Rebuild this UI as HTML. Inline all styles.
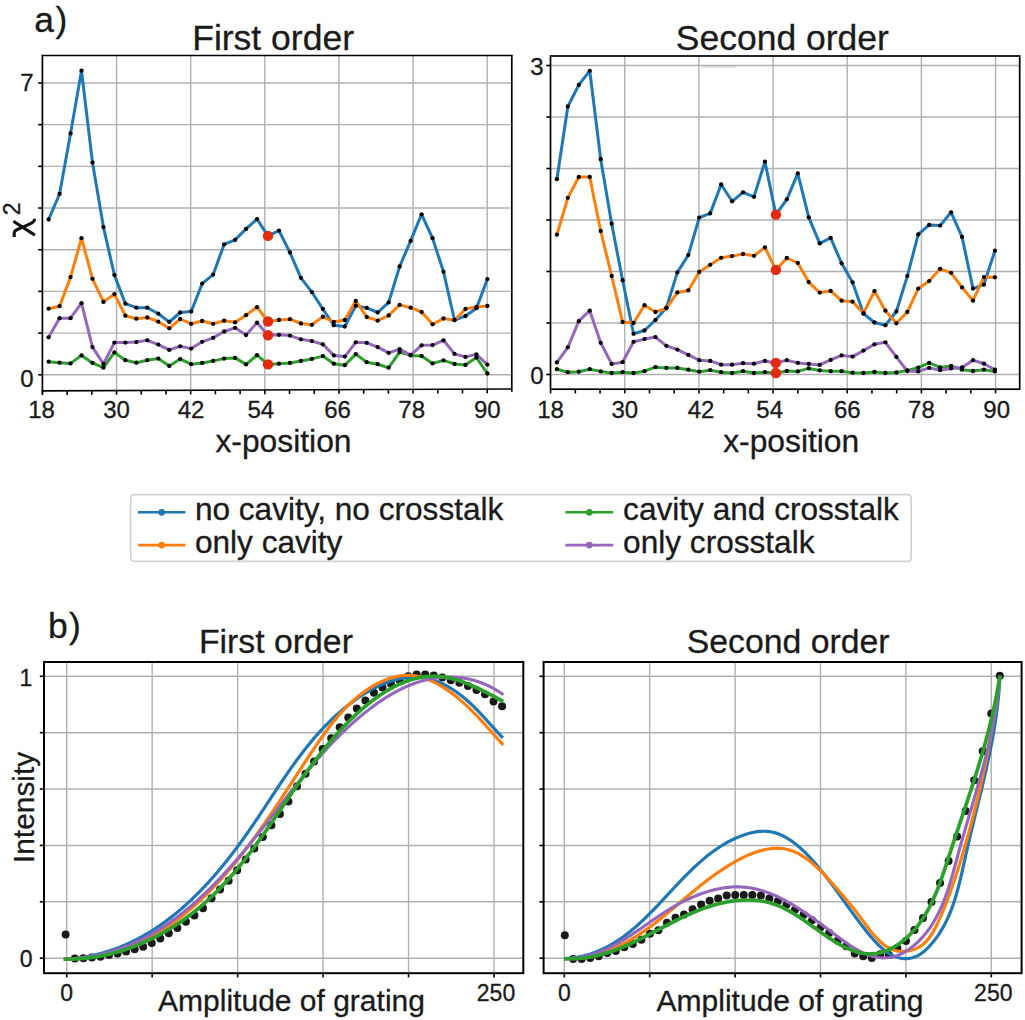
<!DOCTYPE html><html><head><meta charset="utf-8"><style>html,body{margin:0;padding:0;background:#fff;overflow:hidden}svg{display:block}</style></head><body><svg width="1025" height="1020" viewBox="0 0 1025 1020" font-family="&quot;Liberation Sans&quot;, sans-serif">
<style>text{fill:#1a1a1a;stroke:#1a1a1a;stroke-width:0.3px}</style>
<rect width="1025" height="1020" fill="#fff"/>
<rect x="42.4" y="55.5" width="469.4" height="335" fill="#fff"/>
<line x1="116.54" y1="55.5" x2="116.54" y2="390.5" stroke="#b0b0b0" stroke-width="1.4" />
<line x1="190.67" y1="55.5" x2="190.67" y2="390.5" stroke="#b0b0b0" stroke-width="1.4" />
<line x1="264.81" y1="55.5" x2="264.81" y2="390.5" stroke="#b0b0b0" stroke-width="1.4" />
<line x1="338.94" y1="55.5" x2="338.94" y2="390.5" stroke="#b0b0b0" stroke-width="1.4" />
<line x1="413.08" y1="55.5" x2="413.08" y2="390.5" stroke="#b0b0b0" stroke-width="1.4" />
<line x1="487.22" y1="55.5" x2="487.22" y2="390.5" stroke="#b0b0b0" stroke-width="1.4" />
<line x1="42.4" y1="374.8" x2="511.8" y2="374.8" stroke="#b0b0b0" stroke-width="1.4" />
<line x1="42.4" y1="333.11" x2="511.8" y2="333.11" stroke="#b0b0b0" stroke-width="1.4" />
<line x1="42.4" y1="291.42" x2="511.8" y2="291.42" stroke="#b0b0b0" stroke-width="1.4" />
<line x1="42.4" y1="249.73" x2="511.8" y2="249.73" stroke="#b0b0b0" stroke-width="1.4" />
<line x1="42.4" y1="208.04" x2="511.8" y2="208.04" stroke="#b0b0b0" stroke-width="1.4" />
<line x1="42.4" y1="166.35" x2="511.8" y2="166.35" stroke="#b0b0b0" stroke-width="1.4" />
<line x1="42.4" y1="124.66" x2="511.8" y2="124.66" stroke="#b0b0b0" stroke-width="1.4" />
<line x1="42.4" y1="82.97" x2="511.8" y2="82.97" stroke="#b0b0b0" stroke-width="1.4" />
<path d="M48.6,219.5 L59.57,194 L70.54,133.4 L81.51,70.7 L92.48,162.6 L103.45,227.1 L114.42,275.1 L125.39,303.7 L136.36,307.7 L147.33,307.7 L158.3,313.7 L169.27,322 L180.24,312.5 L191.21,311.5 L202.18,283.6 L213.15,274.6 L224.12,244.4 L235.09,239.9 L246.06,228.9 L257.03,219.1 L268,235.9 L278.97,230.6 L289.94,252.5 L300.91,277.8 L311.88,292.1 L322.85,309 L333.82,325.3 L344.79,326.5 L355.76,305.7 L366.73,307.9 L377.7,312.5 L388.67,302.4 L399.64,266.5 L410.61,240.9 L421.58,214.3 L432.55,238.2 L443.52,271.8 L454.49,320 L465.46,316 L476.43,308.2 L487.4,279.1" fill="none" stroke="#1f77b4" stroke-width="3.0" stroke-linejoin="round" />
<path d="M48.6,308.7 L59.57,306.2 L70.54,277.1 L81.51,238.2 L92.48,278.8 L103.45,301.9 L114.42,294.1 L125.39,315.7 L136.36,318.7 L147.33,317.5 L158.3,321.7 L169.27,328.3 L180.24,319 L191.21,323.8 L202.18,321 L213.15,323.8 L224.12,320.7 L235.09,322.3 L246.06,315.2 L257.03,307.2 L268,321.5 L278.97,320 L289.94,319.2 L300.91,323.5 L311.88,324.8 L322.85,316.7 L333.82,322 L344.79,320 L355.76,300.9 L366.73,317 L377.7,320.7 L388.67,315.5 L399.64,304.9 L410.61,307.7 L421.58,312 L432.55,324.3 L443.52,318.5 L454.49,320.2 L465.46,309 L476.43,306.9 L487.4,305.9" fill="none" stroke="#ff7f0e" stroke-width="3.0" stroke-linejoin="round" />
<path d="M48.6,361.7 L59.57,362.7 L70.54,363.4 L81.51,355.4 L92.48,362.9 L103.45,367.7 L114.42,352.4 L125.39,360.2 L136.36,362.7 L147.33,360.2 L158.3,358.6 L169.27,365.9 L180.24,359.1 L191.21,364.2 L202.18,362.9 L213.15,360.9 L224.12,358.6 L235.09,357.9 L246.06,364.4 L257.03,355.1 L268,364.4 L278.97,363.7 L289.94,362.9 L300.91,360.9 L311.88,358.9 L322.85,356.1 L333.82,363.7 L344.79,365.2 L355.76,354.1 L366.73,362.2 L377.7,364.2 L388.67,367.7 L399.64,352.1 L410.61,355.4 L421.58,355.9 L432.55,363.4 L443.52,360.4 L454.49,363.9 L465.46,364.9 L476.43,357.6 L487.4,373.5" fill="none" stroke="#2ca02c" stroke-width="3.0" stroke-linejoin="round" />
<path d="M48.6,337.3 L59.57,318.2 L70.54,318.2 L81.51,303.2 L92.48,347.1 L103.45,363.9 L114.42,342.6 L125.39,342.6 L136.36,342.1 L147.33,340.3 L158.3,344.6 L169.27,349.9 L180.24,346.3 L191.21,348.6 L202.18,341.8 L213.15,337.8 L224.12,331.5 L235.09,327.8 L246.06,335 L257.03,322.7 L268,335.3 L278.97,334.8 L289.94,335.6 L300.91,339.3 L311.88,341.1 L322.85,344.3 L333.82,355.4 L344.79,356.6 L355.76,342.3 L366.73,342.8 L377.7,347.1 L388.67,352.9 L399.64,349.1 L410.61,355.1 L421.58,345.3 L432.55,345.1 L443.52,340.3 L454.49,353.9 L465.46,356.9 L476.43,354.4 L487.4,364.7" fill="none" stroke="#9467bd" stroke-width="3.0" stroke-linejoin="round" />
<g fill="#000">
<circle cx="48.6" cy="219.5" r="2.15"/>
<circle cx="59.57" cy="194" r="2.15"/>
<circle cx="70.54" cy="133.4" r="2.15"/>
<circle cx="81.51" cy="70.7" r="2.15"/>
<circle cx="92.48" cy="162.6" r="2.15"/>
<circle cx="103.45" cy="227.1" r="2.15"/>
<circle cx="114.42" cy="275.1" r="2.15"/>
<circle cx="125.39" cy="303.7" r="2.15"/>
<circle cx="136.36" cy="307.7" r="2.15"/>
<circle cx="147.33" cy="307.7" r="2.15"/>
<circle cx="158.3" cy="313.7" r="2.15"/>
<circle cx="169.27" cy="322" r="2.15"/>
<circle cx="180.24" cy="312.5" r="2.15"/>
<circle cx="191.21" cy="311.5" r="2.15"/>
<circle cx="202.18" cy="283.6" r="2.15"/>
<circle cx="213.15" cy="274.6" r="2.15"/>
<circle cx="224.12" cy="244.4" r="2.15"/>
<circle cx="235.09" cy="239.9" r="2.15"/>
<circle cx="246.06" cy="228.9" r="2.15"/>
<circle cx="257.03" cy="219.1" r="2.15"/>
<circle cx="278.97" cy="230.6" r="2.15"/>
<circle cx="289.94" cy="252.5" r="2.15"/>
<circle cx="300.91" cy="277.8" r="2.15"/>
<circle cx="311.88" cy="292.1" r="2.15"/>
<circle cx="322.85" cy="309" r="2.15"/>
<circle cx="333.82" cy="325.3" r="2.15"/>
<circle cx="344.79" cy="326.5" r="2.15"/>
<circle cx="355.76" cy="305.7" r="2.15"/>
<circle cx="366.73" cy="307.9" r="2.15"/>
<circle cx="377.7" cy="312.5" r="2.15"/>
<circle cx="388.67" cy="302.4" r="2.15"/>
<circle cx="399.64" cy="266.5" r="2.15"/>
<circle cx="410.61" cy="240.9" r="2.15"/>
<circle cx="421.58" cy="214.3" r="2.15"/>
<circle cx="432.55" cy="238.2" r="2.15"/>
<circle cx="443.52" cy="271.8" r="2.15"/>
<circle cx="454.49" cy="320" r="2.15"/>
<circle cx="465.46" cy="316" r="2.15"/>
<circle cx="476.43" cy="308.2" r="2.15"/>
<circle cx="487.4" cy="279.1" r="2.15"/>
<circle cx="48.6" cy="308.7" r="2.15"/>
<circle cx="59.57" cy="306.2" r="2.15"/>
<circle cx="70.54" cy="277.1" r="2.15"/>
<circle cx="81.51" cy="238.2" r="2.15"/>
<circle cx="92.48" cy="278.8" r="2.15"/>
<circle cx="103.45" cy="301.9" r="2.15"/>
<circle cx="114.42" cy="294.1" r="2.15"/>
<circle cx="125.39" cy="315.7" r="2.15"/>
<circle cx="136.36" cy="318.7" r="2.15"/>
<circle cx="147.33" cy="317.5" r="2.15"/>
<circle cx="158.3" cy="321.7" r="2.15"/>
<circle cx="169.27" cy="328.3" r="2.15"/>
<circle cx="180.24" cy="319" r="2.15"/>
<circle cx="191.21" cy="323.8" r="2.15"/>
<circle cx="202.18" cy="321" r="2.15"/>
<circle cx="213.15" cy="323.8" r="2.15"/>
<circle cx="224.12" cy="320.7" r="2.15"/>
<circle cx="235.09" cy="322.3" r="2.15"/>
<circle cx="246.06" cy="315.2" r="2.15"/>
<circle cx="257.03" cy="307.2" r="2.15"/>
<circle cx="278.97" cy="320" r="2.15"/>
<circle cx="289.94" cy="319.2" r="2.15"/>
<circle cx="300.91" cy="323.5" r="2.15"/>
<circle cx="311.88" cy="324.8" r="2.15"/>
<circle cx="322.85" cy="316.7" r="2.15"/>
<circle cx="333.82" cy="322" r="2.15"/>
<circle cx="344.79" cy="320" r="2.15"/>
<circle cx="355.76" cy="300.9" r="2.15"/>
<circle cx="366.73" cy="317" r="2.15"/>
<circle cx="377.7" cy="320.7" r="2.15"/>
<circle cx="388.67" cy="315.5" r="2.15"/>
<circle cx="399.64" cy="304.9" r="2.15"/>
<circle cx="410.61" cy="307.7" r="2.15"/>
<circle cx="421.58" cy="312" r="2.15"/>
<circle cx="432.55" cy="324.3" r="2.15"/>
<circle cx="443.52" cy="318.5" r="2.15"/>
<circle cx="454.49" cy="320.2" r="2.15"/>
<circle cx="465.46" cy="309" r="2.15"/>
<circle cx="476.43" cy="306.9" r="2.15"/>
<circle cx="487.4" cy="305.9" r="2.15"/>
<circle cx="48.6" cy="361.7" r="2.15"/>
<circle cx="59.57" cy="362.7" r="2.15"/>
<circle cx="70.54" cy="363.4" r="2.15"/>
<circle cx="81.51" cy="355.4" r="2.15"/>
<circle cx="92.48" cy="362.9" r="2.15"/>
<circle cx="103.45" cy="367.7" r="2.15"/>
<circle cx="114.42" cy="352.4" r="2.15"/>
<circle cx="125.39" cy="360.2" r="2.15"/>
<circle cx="136.36" cy="362.7" r="2.15"/>
<circle cx="147.33" cy="360.2" r="2.15"/>
<circle cx="158.3" cy="358.6" r="2.15"/>
<circle cx="169.27" cy="365.9" r="2.15"/>
<circle cx="180.24" cy="359.1" r="2.15"/>
<circle cx="191.21" cy="364.2" r="2.15"/>
<circle cx="202.18" cy="362.9" r="2.15"/>
<circle cx="213.15" cy="360.9" r="2.15"/>
<circle cx="224.12" cy="358.6" r="2.15"/>
<circle cx="235.09" cy="357.9" r="2.15"/>
<circle cx="246.06" cy="364.4" r="2.15"/>
<circle cx="257.03" cy="355.1" r="2.15"/>
<circle cx="278.97" cy="363.7" r="2.15"/>
<circle cx="289.94" cy="362.9" r="2.15"/>
<circle cx="300.91" cy="360.9" r="2.15"/>
<circle cx="311.88" cy="358.9" r="2.15"/>
<circle cx="322.85" cy="356.1" r="2.15"/>
<circle cx="333.82" cy="363.7" r="2.15"/>
<circle cx="344.79" cy="365.2" r="2.15"/>
<circle cx="355.76" cy="354.1" r="2.15"/>
<circle cx="366.73" cy="362.2" r="2.15"/>
<circle cx="377.7" cy="364.2" r="2.15"/>
<circle cx="388.67" cy="367.7" r="2.15"/>
<circle cx="399.64" cy="352.1" r="2.15"/>
<circle cx="410.61" cy="355.4" r="2.15"/>
<circle cx="421.58" cy="355.9" r="2.15"/>
<circle cx="432.55" cy="363.4" r="2.15"/>
<circle cx="443.52" cy="360.4" r="2.15"/>
<circle cx="454.49" cy="363.9" r="2.15"/>
<circle cx="465.46" cy="364.9" r="2.15"/>
<circle cx="476.43" cy="357.6" r="2.15"/>
<circle cx="487.4" cy="373.5" r="2.15"/>
<circle cx="48.6" cy="337.3" r="2.15"/>
<circle cx="59.57" cy="318.2" r="2.15"/>
<circle cx="70.54" cy="318.2" r="2.15"/>
<circle cx="81.51" cy="303.2" r="2.15"/>
<circle cx="92.48" cy="347.1" r="2.15"/>
<circle cx="103.45" cy="363.9" r="2.15"/>
<circle cx="114.42" cy="342.6" r="2.15"/>
<circle cx="125.39" cy="342.6" r="2.15"/>
<circle cx="136.36" cy="342.1" r="2.15"/>
<circle cx="147.33" cy="340.3" r="2.15"/>
<circle cx="158.3" cy="344.6" r="2.15"/>
<circle cx="169.27" cy="349.9" r="2.15"/>
<circle cx="180.24" cy="346.3" r="2.15"/>
<circle cx="191.21" cy="348.6" r="2.15"/>
<circle cx="202.18" cy="341.8" r="2.15"/>
<circle cx="213.15" cy="337.8" r="2.15"/>
<circle cx="224.12" cy="331.5" r="2.15"/>
<circle cx="235.09" cy="327.8" r="2.15"/>
<circle cx="246.06" cy="335" r="2.15"/>
<circle cx="257.03" cy="322.7" r="2.15"/>
<circle cx="278.97" cy="334.8" r="2.15"/>
<circle cx="289.94" cy="335.6" r="2.15"/>
<circle cx="300.91" cy="339.3" r="2.15"/>
<circle cx="311.88" cy="341.1" r="2.15"/>
<circle cx="322.85" cy="344.3" r="2.15"/>
<circle cx="333.82" cy="355.4" r="2.15"/>
<circle cx="344.79" cy="356.6" r="2.15"/>
<circle cx="355.76" cy="342.3" r="2.15"/>
<circle cx="366.73" cy="342.8" r="2.15"/>
<circle cx="377.7" cy="347.1" r="2.15"/>
<circle cx="388.67" cy="352.9" r="2.15"/>
<circle cx="399.64" cy="349.1" r="2.15"/>
<circle cx="410.61" cy="355.1" r="2.15"/>
<circle cx="421.58" cy="345.3" r="2.15"/>
<circle cx="432.55" cy="345.1" r="2.15"/>
<circle cx="443.52" cy="340.3" r="2.15"/>
<circle cx="454.49" cy="353.9" r="2.15"/>
<circle cx="465.46" cy="356.9" r="2.15"/>
<circle cx="476.43" cy="354.4" r="2.15"/>
<circle cx="487.4" cy="364.7" r="2.15"/>
</g>
<circle cx="268" cy="235.9" r="5.2" fill="#e3290f"/>
<circle cx="268" cy="321.5" r="5.2" fill="#e3290f"/>
<circle cx="268" cy="335.3" r="5.2" fill="#e3290f"/>
<circle cx="268" cy="364.4" r="5.2" fill="#e3290f"/>
<line x1="42.4" y1="390.8" x2="42.4" y2="395" stroke="#000" stroke-width="1.6" />
<line x1="67.11" y1="390.71" x2="67.11" y2="394.91" stroke="#000" stroke-width="1.6" />
<line x1="91.82" y1="390.61" x2="91.82" y2="394.81" stroke="#000" stroke-width="1.6" />
<line x1="116.54" y1="390.52" x2="116.54" y2="394.72" stroke="#000" stroke-width="1.6" />
<line x1="141.25" y1="390.42" x2="141.25" y2="394.62" stroke="#000" stroke-width="1.6" />
<line x1="165.96" y1="390.33" x2="165.96" y2="394.53" stroke="#000" stroke-width="1.6" />
<line x1="190.67" y1="390.23" x2="190.67" y2="394.43" stroke="#000" stroke-width="1.6" />
<line x1="215.38" y1="390.14" x2="215.38" y2="394.34" stroke="#000" stroke-width="1.6" />
<line x1="240.1" y1="390.04" x2="240.1" y2="394.24" stroke="#000" stroke-width="1.6" />
<line x1="264.81" y1="389.95" x2="264.81" y2="394.15" stroke="#000" stroke-width="1.6" />
<line x1="289.52" y1="389.85" x2="289.52" y2="394.05" stroke="#000" stroke-width="1.6" />
<line x1="314.23" y1="389.76" x2="314.23" y2="393.96" stroke="#000" stroke-width="1.6" />
<line x1="338.94" y1="389.66" x2="338.94" y2="393.86" stroke="#000" stroke-width="1.6" />
<line x1="363.66" y1="389.57" x2="363.66" y2="393.77" stroke="#000" stroke-width="1.6" />
<line x1="388.37" y1="389.47" x2="388.37" y2="393.67" stroke="#000" stroke-width="1.6" />
<line x1="413.08" y1="389.38" x2="413.08" y2="393.58" stroke="#000" stroke-width="1.6" />
<line x1="437.79" y1="389.28" x2="437.79" y2="393.48" stroke="#000" stroke-width="1.6" />
<line x1="462.5" y1="389.19" x2="462.5" y2="393.39" stroke="#000" stroke-width="1.6" />
<line x1="487.22" y1="389.09" x2="487.22" y2="393.29" stroke="#000" stroke-width="1.6" />
<line x1="38.2" y1="374.8" x2="42.4" y2="374.8" stroke="#000" stroke-width="1.6" />
<line x1="38.2" y1="333.11" x2="42.4" y2="333.11" stroke="#000" stroke-width="1.6" />
<line x1="38.2" y1="291.42" x2="42.4" y2="291.42" stroke="#000" stroke-width="1.6" />
<line x1="38.2" y1="249.73" x2="42.4" y2="249.73" stroke="#000" stroke-width="1.6" />
<line x1="38.2" y1="208.04" x2="42.4" y2="208.04" stroke="#000" stroke-width="1.6" />
<line x1="38.2" y1="166.35" x2="42.4" y2="166.35" stroke="#000" stroke-width="1.6" />
<line x1="38.2" y1="124.66" x2="42.4" y2="124.66" stroke="#000" stroke-width="1.6" />
<line x1="38.2" y1="82.97" x2="42.4" y2="82.97" stroke="#000" stroke-width="1.6" />
<line x1="41.55" y1="55.5" x2="512.65" y2="55.5" stroke="#000" stroke-width="1.7" />
<line x1="42.4" y1="55.5" x2="42.4" y2="393.6" stroke="#000" stroke-width="1.7" />
<line x1="511.8" y1="55.5" x2="511.8" y2="391.8" stroke="#000" stroke-width="1.7" />
<line x1="42.4" y1="390.8" x2="511.8" y2="389" stroke="#000" stroke-width="1.7" />
<text transform="translate(41.6,417.8) scale(1,1.0)" font-size="24" text-anchor="middle" >18</text>
<text transform="translate(116.54,417.8) scale(1,1.0)" font-size="24" text-anchor="middle" >30</text>
<text transform="translate(190.97,417.8) scale(1,1.0)" font-size="24" text-anchor="middle" >42</text>
<text transform="translate(260.81,417.8) scale(1,1.0)" font-size="24" text-anchor="middle" >54</text>
<text transform="translate(337.54,417.8) scale(1,1.0)" font-size="24" text-anchor="middle" >66</text>
<text transform="translate(411.68,417.8) scale(1,1.0)" font-size="24" text-anchor="middle" >78</text>
<text transform="translate(487.22,417.8) scale(1,1.0)" font-size="24" text-anchor="middle" >90</text>
<text transform="translate(33.6,91.4) scale(1,1.0)" font-size="24" text-anchor="end" >7</text>
<text transform="translate(33.6,386.5) scale(1,1.0)" font-size="24" text-anchor="end" >0</text>
<text transform="translate(273.1,49.5) scale(1,1.0)" font-size="35.5" text-anchor="middle" >First order</text>
<text transform="translate(283.5,452.2) scale(1,1.0)" font-size="31.8" text-anchor="middle" >x-position</text>
<path d="M13.4,221.3 L34.9,235.1" stroke="#111" stroke-width="3.1" fill="none"/>
<path d="M14.2,237 L14.2,233.2 C14.2,231 15.5,230.2 19,228.8 L30,223.8 C33.5,222.2 34.4,221.6 34.4,219.8 L34.4,218.8" stroke="#111" stroke-width="3.1" fill="none"/>
<text transform="translate(19.9,215.3) rotate(-90)" font-size="23" stroke="#000" stroke-width="0.5">2</text>
<rect x="550.5" y="56" width="469.2" height="333.2" fill="#fff"/>
<line x1="624.76" y1="56" x2="624.76" y2="389.2" stroke="#b0b0b0" stroke-width="1.4" />
<line x1="698.92" y1="56" x2="698.92" y2="389.2" stroke="#b0b0b0" stroke-width="1.4" />
<line x1="773.08" y1="56" x2="773.08" y2="389.2" stroke="#b0b0b0" stroke-width="1.4" />
<line x1="847.24" y1="56" x2="847.24" y2="389.2" stroke="#b0b0b0" stroke-width="1.4" />
<line x1="921.4" y1="56" x2="921.4" y2="389.2" stroke="#b0b0b0" stroke-width="1.4" />
<line x1="995.56" y1="56" x2="995.56" y2="389.2" stroke="#b0b0b0" stroke-width="1.4" />
<line x1="550.5" y1="374.5" x2="1019.7" y2="374.5" stroke="#b0b0b0" stroke-width="1.4" />
<line x1="550.5" y1="323" x2="1019.7" y2="323" stroke="#b0b0b0" stroke-width="1.4" />
<line x1="550.5" y1="271.5" x2="1019.7" y2="271.5" stroke="#b0b0b0" stroke-width="1.4" />
<line x1="550.5" y1="220" x2="1019.7" y2="220" stroke="#b0b0b0" stroke-width="1.4" />
<line x1="550.5" y1="168.5" x2="1019.7" y2="168.5" stroke="#b0b0b0" stroke-width="1.4" />
<line x1="550.5" y1="117" x2="1019.7" y2="117" stroke="#b0b0b0" stroke-width="1.4" />
<line x1="550.5" y1="65.5" x2="1019.7" y2="65.5" stroke="#b0b0b0" stroke-width="1.4" />
<line x1="701.1" y1="67" x2="735.7" y2="67" stroke="#c8c8c8" stroke-width="1" />
<path d="M556.9,179.2 L567.85,106.5 L578.8,84.9 L589.75,70.8 L600.7,159.2 L611.65,223.7 L622.6,280.2 L633.55,333.8 L644.5,330.5 L655.45,320 L666.4,307.7 L677.35,272.4 L688.3,255.1 L699.25,217.6 L710.2,213.4 L721.15,184.5 L732.1,201.3 L743.05,192.3 L754,196.8 L764.95,161.7 L775.9,214.6 L786.85,199.3 L797.8,173.4 L808.75,217.3 L819.7,243.4 L830.65,237.9 L841.6,263.3 L852.55,282.3 L863.5,313.7 L874.45,322.5 L885.4,325.3 L896.35,311.5 L907.3,276.1 L918.25,234.4 L929.2,224.9 L940.15,225.6 L951.1,212.3 L962.05,236.9 L973,288.6 L983.95,284.6 L994.9,250.7" fill="none" stroke="#1f77b4" stroke-width="3.0" stroke-linejoin="round" />
<path d="M556.9,234.7 L567.85,197.8 L578.8,177 L589.75,177 L600.7,231 L611.65,276 L622.6,322 L633.55,323 L644.5,305.2 L655.45,312 L666.4,308.3 L677.35,292.4 L688.3,290.4 L699.25,272 L710.2,264.8 L721.15,257.8 L732.1,256.1 L743.05,254 L754,255.8 L764.95,247.5 L775.9,269.9 L786.85,258 L797.8,263 L808.75,282.1 L819.7,292.6 L830.65,290.9 L841.6,300.7 L852.55,301.7 L863.5,313.2 L874.45,291.1 L885.4,310.7 L896.35,323.3 L907.3,312 L918.25,288.6 L929.2,281.1 L940.15,268.8 L951.1,272.8 L962.05,287.4 L973,300.7 L983.95,277.1 L994.9,277.3" fill="none" stroke="#ff7f0e" stroke-width="3.0" stroke-linejoin="round" />
<path d="M556.9,369.2 L567.85,372.2 L578.8,371.7 L589.75,369.2 L600.7,371.4 L611.65,373 L622.6,372.2 L633.55,373 L644.5,371.2 L655.45,367.2 L666.4,367.9 L677.35,367.9 L688.3,369.7 L699.25,371.7 L710.2,370.2 L721.15,372.2 L732.1,373 L743.05,371.2 L754,373 L764.95,372.2 L775.9,373 L786.85,371 L797.8,371.4 L808.75,368.4 L819.7,370.4 L830.65,371.2 L841.6,371.2 L852.55,372.7 L863.5,373 L874.45,372 L885.4,373 L896.35,372.5 L907.3,370.4 L918.25,367.7 L929.2,362.9 L940.15,367.4 L951.1,365.9 L962.05,369.7 L973,371 L983.95,369.7 L994.9,371.4" fill="none" stroke="#2ca02c" stroke-width="3.0" stroke-linejoin="round" />
<path d="M556.9,362.4 L567.85,347.3 L578.8,321.2 L589.75,310.7 L600.7,342.8 L611.65,363.9 L622.6,362.2 L633.55,341.8 L644.5,339.1 L655.45,337.1 L666.4,345.8 L677.35,349.6 L688.3,354.9 L699.25,360.2 L710.2,360.9 L721.15,364.7 L732.1,364.7 L743.05,363.2 L754,363.7 L764.95,360.9 L775.9,362.9 L786.85,360.2 L797.8,362.9 L808.75,363.9 L819.7,364.9 L830.65,359.9 L841.6,355.4 L852.55,356.6 L863.5,350.6 L874.45,344.3 L885.4,342.3 L896.35,356.9 L907.3,371 L918.25,371.4 L929.2,367.9 L940.15,370.2 L951.1,368.4 L962.05,367.4 L973,360.2 L983.95,363.7 L994.9,369.7" fill="none" stroke="#9467bd" stroke-width="3.0" stroke-linejoin="round" />
<g fill="#000">
<circle cx="556.9" cy="179.2" r="2.15"/>
<circle cx="567.85" cy="106.5" r="2.15"/>
<circle cx="578.8" cy="84.9" r="2.15"/>
<circle cx="589.75" cy="70.8" r="2.15"/>
<circle cx="600.7" cy="159.2" r="2.15"/>
<circle cx="611.65" cy="223.7" r="2.15"/>
<circle cx="622.6" cy="280.2" r="2.15"/>
<circle cx="633.55" cy="333.8" r="2.15"/>
<circle cx="644.5" cy="330.5" r="2.15"/>
<circle cx="655.45" cy="320" r="2.15"/>
<circle cx="666.4" cy="307.7" r="2.15"/>
<circle cx="677.35" cy="272.4" r="2.15"/>
<circle cx="688.3" cy="255.1" r="2.15"/>
<circle cx="699.25" cy="217.6" r="2.15"/>
<circle cx="710.2" cy="213.4" r="2.15"/>
<circle cx="721.15" cy="184.5" r="2.15"/>
<circle cx="732.1" cy="201.3" r="2.15"/>
<circle cx="743.05" cy="192.3" r="2.15"/>
<circle cx="754" cy="196.8" r="2.15"/>
<circle cx="764.95" cy="161.7" r="2.15"/>
<circle cx="786.85" cy="199.3" r="2.15"/>
<circle cx="797.8" cy="173.4" r="2.15"/>
<circle cx="808.75" cy="217.3" r="2.15"/>
<circle cx="819.7" cy="243.4" r="2.15"/>
<circle cx="830.65" cy="237.9" r="2.15"/>
<circle cx="841.6" cy="263.3" r="2.15"/>
<circle cx="852.55" cy="282.3" r="2.15"/>
<circle cx="863.5" cy="313.7" r="2.15"/>
<circle cx="874.45" cy="322.5" r="2.15"/>
<circle cx="885.4" cy="325.3" r="2.15"/>
<circle cx="896.35" cy="311.5" r="2.15"/>
<circle cx="907.3" cy="276.1" r="2.15"/>
<circle cx="918.25" cy="234.4" r="2.15"/>
<circle cx="929.2" cy="224.9" r="2.15"/>
<circle cx="940.15" cy="225.6" r="2.15"/>
<circle cx="951.1" cy="212.3" r="2.15"/>
<circle cx="962.05" cy="236.9" r="2.15"/>
<circle cx="973" cy="288.6" r="2.15"/>
<circle cx="983.95" cy="284.6" r="2.15"/>
<circle cx="994.9" cy="250.7" r="2.15"/>
<circle cx="556.9" cy="234.7" r="2.15"/>
<circle cx="567.85" cy="197.8" r="2.15"/>
<circle cx="578.8" cy="177" r="2.15"/>
<circle cx="589.75" cy="177" r="2.15"/>
<circle cx="600.7" cy="231" r="2.15"/>
<circle cx="611.65" cy="276" r="2.15"/>
<circle cx="622.6" cy="322" r="2.15"/>
<circle cx="633.55" cy="323" r="2.15"/>
<circle cx="644.5" cy="305.2" r="2.15"/>
<circle cx="655.45" cy="312" r="2.15"/>
<circle cx="666.4" cy="308.3" r="2.15"/>
<circle cx="677.35" cy="292.4" r="2.15"/>
<circle cx="688.3" cy="290.4" r="2.15"/>
<circle cx="699.25" cy="272" r="2.15"/>
<circle cx="710.2" cy="264.8" r="2.15"/>
<circle cx="721.15" cy="257.8" r="2.15"/>
<circle cx="732.1" cy="256.1" r="2.15"/>
<circle cx="743.05" cy="254" r="2.15"/>
<circle cx="754" cy="255.8" r="2.15"/>
<circle cx="764.95" cy="247.5" r="2.15"/>
<circle cx="786.85" cy="258" r="2.15"/>
<circle cx="797.8" cy="263" r="2.15"/>
<circle cx="808.75" cy="282.1" r="2.15"/>
<circle cx="819.7" cy="292.6" r="2.15"/>
<circle cx="830.65" cy="290.9" r="2.15"/>
<circle cx="841.6" cy="300.7" r="2.15"/>
<circle cx="852.55" cy="301.7" r="2.15"/>
<circle cx="863.5" cy="313.2" r="2.15"/>
<circle cx="874.45" cy="291.1" r="2.15"/>
<circle cx="885.4" cy="310.7" r="2.15"/>
<circle cx="896.35" cy="323.3" r="2.15"/>
<circle cx="907.3" cy="312" r="2.15"/>
<circle cx="918.25" cy="288.6" r="2.15"/>
<circle cx="929.2" cy="281.1" r="2.15"/>
<circle cx="940.15" cy="268.8" r="2.15"/>
<circle cx="951.1" cy="272.8" r="2.15"/>
<circle cx="962.05" cy="287.4" r="2.15"/>
<circle cx="973" cy="300.7" r="2.15"/>
<circle cx="983.95" cy="277.1" r="2.15"/>
<circle cx="994.9" cy="277.3" r="2.15"/>
<circle cx="556.9" cy="369.2" r="2.15"/>
<circle cx="567.85" cy="372.2" r="2.15"/>
<circle cx="578.8" cy="371.7" r="2.15"/>
<circle cx="589.75" cy="369.2" r="2.15"/>
<circle cx="600.7" cy="371.4" r="2.15"/>
<circle cx="611.65" cy="373" r="2.15"/>
<circle cx="622.6" cy="372.2" r="2.15"/>
<circle cx="633.55" cy="373" r="2.15"/>
<circle cx="644.5" cy="371.2" r="2.15"/>
<circle cx="655.45" cy="367.2" r="2.15"/>
<circle cx="666.4" cy="367.9" r="2.15"/>
<circle cx="677.35" cy="367.9" r="2.15"/>
<circle cx="688.3" cy="369.7" r="2.15"/>
<circle cx="699.25" cy="371.7" r="2.15"/>
<circle cx="710.2" cy="370.2" r="2.15"/>
<circle cx="721.15" cy="372.2" r="2.15"/>
<circle cx="732.1" cy="373" r="2.15"/>
<circle cx="743.05" cy="371.2" r="2.15"/>
<circle cx="754" cy="373" r="2.15"/>
<circle cx="764.95" cy="372.2" r="2.15"/>
<circle cx="786.85" cy="371" r="2.15"/>
<circle cx="797.8" cy="371.4" r="2.15"/>
<circle cx="808.75" cy="368.4" r="2.15"/>
<circle cx="819.7" cy="370.4" r="2.15"/>
<circle cx="830.65" cy="371.2" r="2.15"/>
<circle cx="841.6" cy="371.2" r="2.15"/>
<circle cx="852.55" cy="372.7" r="2.15"/>
<circle cx="863.5" cy="373" r="2.15"/>
<circle cx="874.45" cy="372" r="2.15"/>
<circle cx="885.4" cy="373" r="2.15"/>
<circle cx="896.35" cy="372.5" r="2.15"/>
<circle cx="907.3" cy="370.4" r="2.15"/>
<circle cx="918.25" cy="367.7" r="2.15"/>
<circle cx="929.2" cy="362.9" r="2.15"/>
<circle cx="940.15" cy="367.4" r="2.15"/>
<circle cx="951.1" cy="365.9" r="2.15"/>
<circle cx="962.05" cy="369.7" r="2.15"/>
<circle cx="973" cy="371" r="2.15"/>
<circle cx="983.95" cy="369.7" r="2.15"/>
<circle cx="994.9" cy="371.4" r="2.15"/>
<circle cx="556.9" cy="362.4" r="2.15"/>
<circle cx="567.85" cy="347.3" r="2.15"/>
<circle cx="578.8" cy="321.2" r="2.15"/>
<circle cx="589.75" cy="310.7" r="2.15"/>
<circle cx="600.7" cy="342.8" r="2.15"/>
<circle cx="611.65" cy="363.9" r="2.15"/>
<circle cx="622.6" cy="362.2" r="2.15"/>
<circle cx="633.55" cy="341.8" r="2.15"/>
<circle cx="644.5" cy="339.1" r="2.15"/>
<circle cx="655.45" cy="337.1" r="2.15"/>
<circle cx="666.4" cy="345.8" r="2.15"/>
<circle cx="677.35" cy="349.6" r="2.15"/>
<circle cx="688.3" cy="354.9" r="2.15"/>
<circle cx="699.25" cy="360.2" r="2.15"/>
<circle cx="710.2" cy="360.9" r="2.15"/>
<circle cx="721.15" cy="364.7" r="2.15"/>
<circle cx="732.1" cy="364.7" r="2.15"/>
<circle cx="743.05" cy="363.2" r="2.15"/>
<circle cx="754" cy="363.7" r="2.15"/>
<circle cx="764.95" cy="360.9" r="2.15"/>
<circle cx="786.85" cy="360.2" r="2.15"/>
<circle cx="797.8" cy="362.9" r="2.15"/>
<circle cx="808.75" cy="363.9" r="2.15"/>
<circle cx="819.7" cy="364.9" r="2.15"/>
<circle cx="830.65" cy="359.9" r="2.15"/>
<circle cx="841.6" cy="355.4" r="2.15"/>
<circle cx="852.55" cy="356.6" r="2.15"/>
<circle cx="863.5" cy="350.6" r="2.15"/>
<circle cx="874.45" cy="344.3" r="2.15"/>
<circle cx="885.4" cy="342.3" r="2.15"/>
<circle cx="896.35" cy="356.9" r="2.15"/>
<circle cx="907.3" cy="371" r="2.15"/>
<circle cx="918.25" cy="371.4" r="2.15"/>
<circle cx="929.2" cy="367.9" r="2.15"/>
<circle cx="940.15" cy="370.2" r="2.15"/>
<circle cx="951.1" cy="368.4" r="2.15"/>
<circle cx="962.05" cy="367.4" r="2.15"/>
<circle cx="973" cy="360.2" r="2.15"/>
<circle cx="983.95" cy="363.7" r="2.15"/>
<circle cx="994.9" cy="369.7" r="2.15"/>
</g>
<circle cx="775.9" cy="214.6" r="5.2" fill="#e3290f"/>
<circle cx="775.9" cy="269.9" r="5.2" fill="#e3290f"/>
<circle cx="775.9" cy="362.9" r="5.2" fill="#e3290f"/>
<circle cx="775.9" cy="373" r="5.2" fill="#e3290f"/>
<line x1="550.6" y1="389.2" x2="550.6" y2="393.4" stroke="#000" stroke-width="1.6" />
<line x1="575.32" y1="389.2" x2="575.32" y2="393.4" stroke="#000" stroke-width="1.6" />
<line x1="600.04" y1="389.2" x2="600.04" y2="393.4" stroke="#000" stroke-width="1.6" />
<line x1="624.76" y1="389.2" x2="624.76" y2="393.4" stroke="#000" stroke-width="1.6" />
<line x1="649.48" y1="389.2" x2="649.48" y2="393.4" stroke="#000" stroke-width="1.6" />
<line x1="674.2" y1="389.2" x2="674.2" y2="393.4" stroke="#000" stroke-width="1.6" />
<line x1="698.92" y1="389.2" x2="698.92" y2="393.4" stroke="#000" stroke-width="1.6" />
<line x1="723.64" y1="389.2" x2="723.64" y2="393.4" stroke="#000" stroke-width="1.6" />
<line x1="748.36" y1="389.2" x2="748.36" y2="393.4" stroke="#000" stroke-width="1.6" />
<line x1="773.08" y1="389.2" x2="773.08" y2="393.4" stroke="#000" stroke-width="1.6" />
<line x1="797.8" y1="389.2" x2="797.8" y2="393.4" stroke="#000" stroke-width="1.6" />
<line x1="822.52" y1="389.2" x2="822.52" y2="393.4" stroke="#000" stroke-width="1.6" />
<line x1="847.24" y1="389.2" x2="847.24" y2="393.4" stroke="#000" stroke-width="1.6" />
<line x1="871.96" y1="389.2" x2="871.96" y2="393.4" stroke="#000" stroke-width="1.6" />
<line x1="896.68" y1="389.2" x2="896.68" y2="393.4" stroke="#000" stroke-width="1.6" />
<line x1="921.4" y1="389.2" x2="921.4" y2="393.4" stroke="#000" stroke-width="1.6" />
<line x1="946.12" y1="389.2" x2="946.12" y2="393.4" stroke="#000" stroke-width="1.6" />
<line x1="970.84" y1="389.2" x2="970.84" y2="393.4" stroke="#000" stroke-width="1.6" />
<line x1="995.56" y1="389.2" x2="995.56" y2="393.4" stroke="#000" stroke-width="1.6" />
<line x1="546.3" y1="374.5" x2="550.5" y2="374.5" stroke="#000" stroke-width="1.6" />
<line x1="546.3" y1="323" x2="550.5" y2="323" stroke="#000" stroke-width="1.6" />
<line x1="546.3" y1="271.5" x2="550.5" y2="271.5" stroke="#000" stroke-width="1.6" />
<line x1="546.3" y1="220" x2="550.5" y2="220" stroke="#000" stroke-width="1.6" />
<line x1="546.3" y1="168.5" x2="550.5" y2="168.5" stroke="#000" stroke-width="1.6" />
<line x1="546.3" y1="117" x2="550.5" y2="117" stroke="#000" stroke-width="1.6" />
<line x1="546.3" y1="65.5" x2="550.5" y2="65.5" stroke="#000" stroke-width="1.6" />
<rect x="550.5" y="56" width="469.2" height="333.2" fill="none" stroke="#000" stroke-width="1.7"/>
<text transform="translate(550.6,417.8) scale(1,1.0)" font-size="24" text-anchor="middle" >18</text>
<text transform="translate(624.76,417.8) scale(1,1.0)" font-size="24" text-anchor="middle" >30</text>
<text transform="translate(701.02,417.8) scale(1,1.0)" font-size="24" text-anchor="middle" >42</text>
<text transform="translate(769.68,417.8) scale(1,1.0)" font-size="24" text-anchor="middle" >54</text>
<text transform="translate(847.24,417.8) scale(1,1.0)" font-size="24" text-anchor="middle" >66</text>
<text transform="translate(921.4,417.8) scale(1,1.0)" font-size="24" text-anchor="middle" >78</text>
<text transform="translate(996.66,417.8) scale(1,1.0)" font-size="24" text-anchor="middle" >90</text>
<text transform="translate(543.7,74.5) scale(1,1.0)" font-size="24" text-anchor="end" >3</text>
<text transform="translate(543.7,383.6) scale(1,1.0)" font-size="24" text-anchor="end" >0</text>
<text transform="translate(782.3,49.5) scale(1,1.0)" font-size="35.5" text-anchor="middle" >Second order</text>
<text transform="translate(791.2,452.2) scale(1,1.0)" font-size="31.8" text-anchor="middle" >x-position</text>
<rect x="130.6" y="494.6" width="780.6" height="66.8" rx="3.5" fill="#fff" stroke="#d2d2d2" stroke-width="1.7"/>
<line x1="138" y1="512.3" x2="185.4" y2="512.3" stroke="#1f77b4" stroke-width="2.6" />
<circle cx="161.7" cy="512.3" r="3.4" fill="#1f77b4"/>
<text transform="translate(194.9,520) scale(1,1.0)" font-size="31.6" text-anchor="start" >no cavity, no crosstalk</text>
<line x1="138" y1="545.1" x2="185.4" y2="545.1" stroke="#ff7f0e" stroke-width="2.6" />
<circle cx="161.7" cy="545.1" r="3.4" fill="#ff7f0e"/>
<text transform="translate(194.9,552.8) scale(1,1.0)" font-size="31.6" text-anchor="start" >only cavity</text>
<line x1="565.4" y1="512.3" x2="613.2" y2="512.3" stroke="#2ca02c" stroke-width="2.6" />
<circle cx="589.3" cy="512.3" r="3.4" fill="#2ca02c"/>
<text transform="translate(623.1,520) scale(1,1.0)" font-size="31.6" text-anchor="start" >cavity and crosstalk</text>
<line x1="565.4" y1="545.1" x2="613.2" y2="545.1" stroke="#9467bd" stroke-width="2.6" />
<circle cx="589.3" cy="545.1" r="3.4" fill="#9467bd"/>
<text transform="translate(623.1,552.8) scale(1,1.0)" font-size="31.6" text-anchor="start" >only crosstalk</text>
<rect x="44" y="662" width="479.3" height="311.2" fill="#fff"/>
<line x1="66.7" y1="662" x2="66.7" y2="973.2" stroke="#b0b0b0" stroke-width="1.4" />
<line x1="152.16" y1="662" x2="152.16" y2="973.2" stroke="#b0b0b0" stroke-width="1.4" />
<line x1="237.62" y1="662" x2="237.62" y2="973.2" stroke="#b0b0b0" stroke-width="1.4" />
<line x1="323.08" y1="662" x2="323.08" y2="973.2" stroke="#b0b0b0" stroke-width="1.4" />
<line x1="408.54" y1="662" x2="408.54" y2="973.2" stroke="#b0b0b0" stroke-width="1.4" />
<line x1="494" y1="662" x2="494" y2="973.2" stroke="#b0b0b0" stroke-width="1.4" />
<line x1="44" y1="958.2" x2="523.3" y2="958.2" stroke="#b0b0b0" stroke-width="1.4" />
<line x1="44" y1="901.82" x2="523.3" y2="901.82" stroke="#b0b0b0" stroke-width="1.4" />
<line x1="44" y1="845.44" x2="523.3" y2="845.44" stroke="#b0b0b0" stroke-width="1.4" />
<line x1="44" y1="789.06" x2="523.3" y2="789.06" stroke="#b0b0b0" stroke-width="1.4" />
<line x1="44" y1="732.68" x2="523.3" y2="732.68" stroke="#b0b0b0" stroke-width="1.4" />
<line x1="44" y1="676.3" x2="523.3" y2="676.3" stroke="#b0b0b0" stroke-width="1.4" />
<g fill="#1a1a1a">
<circle cx="65.6" cy="934.6" r="4"/>
<circle cx="74.8" cy="958.6" r="4"/>
<circle cx="83.35" cy="958.3" r="4"/>
<circle cx="91.89" cy="957.6" r="4"/>
<circle cx="100.44" cy="956.7" r="4"/>
<circle cx="108.98" cy="955.1" r="4"/>
<circle cx="117.53" cy="953.6" r="4"/>
<circle cx="126.08" cy="951.5" r="4"/>
<circle cx="134.62" cy="949.3" r="4"/>
<circle cx="143.17" cy="946.8" r="4"/>
<circle cx="151.71" cy="943" r="4"/>
<circle cx="160.26" cy="938.6" r="4"/>
<circle cx="168.81" cy="933.3" r="4"/>
<circle cx="177.35" cy="928" r="4"/>
<circle cx="185.9" cy="921.7" r="4"/>
<circle cx="194.44" cy="915.4" r="4"/>
<circle cx="202.99" cy="908.2" r="4"/>
<circle cx="211.54" cy="898.3" r="4"/>
<circle cx="220.08" cy="889.6" r="4"/>
<circle cx="228.63" cy="880.8" r="4"/>
<circle cx="237.17" cy="870.2" r="4"/>
<circle cx="245.72" cy="859.5" r="4"/>
<circle cx="254.27" cy="848.5" r="4"/>
<circle cx="262.81" cy="837" r="4"/>
<circle cx="271.36" cy="825.2" r="4"/>
<circle cx="279.9" cy="813.9" r="4"/>
<circle cx="288.45" cy="801.4" r="4"/>
<circle cx="297" cy="786.3" r="4"/>
<circle cx="305.54" cy="773.8" r="4"/>
<circle cx="314.09" cy="761.5" r="4"/>
<circle cx="322.63" cy="749" r="4"/>
<circle cx="331.18" cy="738.3" r="4"/>
<circle cx="339.73" cy="727.3" r="4"/>
<circle cx="348.27" cy="717.6" r="4"/>
<circle cx="356.82" cy="708.5" r="4"/>
<circle cx="365.36" cy="700.6" r="4"/>
<circle cx="373.91" cy="692.8" r="4"/>
<circle cx="382.46" cy="687.4" r="4"/>
<circle cx="391" cy="683.7" r="4"/>
<circle cx="399.55" cy="679.9" r="4"/>
<circle cx="408.09" cy="676.2" r="4"/>
<circle cx="416.64" cy="674.6" r="4"/>
<circle cx="425.19" cy="674.6" r="4"/>
<circle cx="433.73" cy="675.5" r="4"/>
<circle cx="442.28" cy="677.5" r="4"/>
<circle cx="450.82" cy="680.3" r="4"/>
<circle cx="459.37" cy="682.8" r="4"/>
<circle cx="467.92" cy="686" r="4"/>
<circle cx="476.46" cy="690" r="4"/>
<circle cx="485.01" cy="694.2" r="4"/>
<circle cx="493.55" cy="701.5" r="4"/>
<circle cx="502.1" cy="706.3" r="4"/>
</g>
<path d="M63.79,959.4 L65.33,959.3 L66.87,959.2 L68.4,959.09 L69.93,958.96 L71.45,958.82 L72.96,958.66 L74.47,958.5 L75.97,958.32 L77.47,958.13 L78.96,957.93 L80.44,957.71 L81.92,957.49 L83.4,957.25 L84.86,957 L86.33,956.74 L87.78,956.46 L89.23,956.18 L90.68,955.88 L92.12,955.57 L93.55,955.26 L94.98,954.92 L96.4,954.58 L97.82,954.23 L99.23,953.87 L100.64,953.49 L102.04,953.11 L103.44,952.71 L104.83,952.3 L106.21,951.88 L107.59,951.45 L108.97,951.01 L110.34,950.56 L111.7,950.1 L113.06,949.63 L114.41,949.15 L115.76,948.66 L117.1,948.16 L118.44,947.65 L119.77,947.12 L121.1,946.59 L122.42,946.05 L123.74,945.5 L125.05,944.94 L126.35,944.37 L127.65,943.79 L128.95,943.2 L130.24,942.6 L131.53,941.99 L132.81,941.37 L134.09,940.75 L135.36,940.11 L136.62,939.46 L137.88,938.81 L139.14,938.15 L140.39,937.47 L141.64,936.79 L142.88,936.1 L144.12,935.4 L145.35,934.7 L146.57,933.98 L147.8,933.26 L149.01,932.53 L150.23,931.79 L151.43,931.04 L152.64,930.28 L153.84,929.52 L155.03,928.74 L156.22,927.96 L157.4,927.17 L158.58,926.38 L159.76,925.57 L160.93,924.76 L162.1,923.94 L163.26,923.11 L164.42,922.28 L165.57,921.44 L166.72,920.59 L167.86,919.73 L169,918.87 L170.13,918 L171.26,917.12 L172.39,916.24 L173.51,915.35 L174.63,914.45 L175.74,913.54 L176.85,912.63 L177.95,911.71 L179.05,910.79 L180.15,909.86 L181.24,908.92 L182.33,907.98 L183.41,907.03 L184.49,906.07 L185.57,905.11 L186.64,904.14 L187.7,903.17 L188.76,902.19 L189.82,901.2 L190.88,900.21 L191.93,899.22 L192.97,898.21 L194.02,897.21 L195.05,896.19 L196.09,895.17 L197.12,894.15 L198.14,893.12 L199.17,892.09 L200.18,891.05 L201.2,890 L202.21,888.95 L203.22,887.9 L204.22,886.84 L205.22,885.78 L206.21,884.71 L207.21,883.64 L208.19,882.56 L209.18,881.48 L210.16,880.39 L211.13,879.3 L212.11,878.21 L213.08,877.11 L214.04,876.01 L215,874.9 L215.96,873.79 L216.92,872.68 L217.87,871.56 L218.82,870.44 L219.76,869.31 L220.7,868.18 L221.64,867.05 L222.57,865.92 L223.5,864.78 L224.43,863.63 L225.35,862.49 L226.27,861.34 L227.19,860.19 L228.1,859.03 L229.01,857.88 L229.92,856.72 L230.82,855.55 L231.72,854.39 L232.62,853.22 L233.52,852.05 L234.41,850.87 L235.29,849.7 L236.18,848.52 L237.06,847.34 L237.94,846.16 L238.81,844.97 L239.68,843.79 L240.55,842.6 L241.42,841.41 L242.28,840.21 L243.14,839.02 L243.99,837.82 L244.85,836.63 L245.7,835.43 L246.55,834.23 L247.39,833.02 L248.23,831.82 L249.07,830.62 L249.91,829.41 L250.74,828.2 L251.57,827 L252.4,825.79 L253.22,824.58 L254.04,823.37 L254.87,822.16 L255.68,820.94 L256.5,819.73 L257.31,818.52 L258.13,817.3 L258.94,816.09 L259.75,814.88 L260.55,813.66 L261.36,812.45 L262.17,811.23 L262.97,810.01 L263.77,808.8 L264.57,807.58 L265.37,806.37 L266.17,805.15 L266.97,803.94 L267.77,802.73 L268.57,801.51 L269.37,800.3 L270.16,799.08 L270.96,797.87 L271.76,796.66 L272.56,795.45 L273.35,794.24 L274.15,793.03 L274.95,791.82 L275.75,790.61 L276.55,789.41 L277.35,788.2 L278.15,787 L278.95,785.79 L279.75,784.59 L280.56,783.39 L281.36,782.19 L282.17,781 L282.98,779.8 L283.79,778.61 L284.6,777.42 L285.41,776.23 L286.22,775.04 L287.04,773.85 L287.86,772.67 L288.68,771.48 L289.5,770.3 L290.33,769.13 L291.16,767.95 L291.99,766.78 L292.82,765.61 L293.66,764.44 L294.5,763.27 L295.34,762.11 L296.19,760.95 L297.03,759.79 L297.89,758.64 L298.74,757.48 L299.6,756.34 L300.46,755.19 L301.33,754.05 L302.2,752.91 L303.07,751.77 L303.95,750.64 L304.84,749.51 L305.72,748.38 L306.61,747.26 L307.51,746.14 L308.41,745.02 L309.32,743.91 L310.23,742.8 L311.14,741.7 L312.06,740.6 L312.99,739.5 L313.92,738.41 L314.85,737.32 L315.8,736.24 L316.74,735.16 L317.69,734.08 L318.65,733.01 L319.62,731.94 L320.59,730.88 L321.56,729.83 L322.55,728.77 L323.54,727.72 L324.53,726.68 L325.53,725.64 L326.54,724.61 L327.56,723.58 L328.58,722.56 L329.61,721.54 L330.65,720.53 L331.69,719.52 L332.74,718.52 L333.8,717.52 L334.87,716.53 L335.94,715.54 L337.02,714.56 L338.11,713.59 L339.21,712.62 L340.31,711.65 L341.42,710.7 L342.54,709.75 L343.67,708.8 L344.81,707.86 L345.96,706.93 L347.11,706 L348.28,705.08 L349.45,704.17 L350.63,703.27 L351.82,702.37 L353.01,701.48 L354.22,700.6 L355.43,699.73 L356.65,698.87 L357.87,698.02 L359.1,697.18 L360.34,696.35 L361.59,695.53 L362.84,694.73 L364.1,693.93 L365.36,693.15 L366.63,692.39 L367.91,691.63 L369.19,690.89 L370.48,690.17 L371.77,689.46 L373.07,688.77 L374.37,688.09 L375.68,687.42 L377,686.78 L378.31,686.15 L379.63,685.54 L380.96,684.95 L382.29,684.37 L383.62,683.81 L384.96,683.28 L386.3,682.76 L387.64,682.26 L388.99,681.79 L390.34,681.33 L391.69,680.9 L393.05,680.49 L394.41,680.1 L395.77,679.73 L397.13,679.38 L398.5,679.06 L399.86,678.77 L401.23,678.5 L402.6,678.25 L403.97,678.03 L405.35,677.83 L406.72,677.66 L408.09,677.52 L409.47,677.4 L410.85,677.31 L412.22,677.25 L413.6,677.22 L414.97,677.21 L416.35,677.24 L417.73,677.29 L419.1,677.38 L420.48,677.49 L421.85,677.64 L423.23,677.82 L424.6,678.02 L425.97,678.27 L427.34,678.54 L428.71,678.85 L430.07,679.19 L431.44,679.56 L432.8,679.97 L434.16,680.41 L435.51,680.87 L436.87,681.37 L438.21,681.9 L439.56,682.46 L440.9,683.04 L442.23,683.66 L443.55,684.3 L444.88,684.96 L446.19,685.65 L447.5,686.36 L448.8,687.1 L450.09,687.86 L451.37,688.64 L452.65,689.45 L453.91,690.27 L455.17,691.12 L456.41,691.98 L457.65,692.86 L458.87,693.76 L460.08,694.68 L461.29,695.61 L462.48,696.55 L463.66,697.52 L464.82,698.49 L465.98,699.48 L467.13,700.48 L468.26,701.49 L469.39,702.52 L470.51,703.55 L471.61,704.59 L472.71,705.64 L473.8,706.7 L474.87,707.76 L475.94,708.83 L477,709.9 L478.05,710.98 L479.09,712.06 L480.13,713.15 L481.15,714.23 L482.17,715.32 L483.18,716.41 L484.18,717.49 L485.18,718.58 L486.16,719.66 L487.14,720.74 L488.12,721.82 L489.08,722.89 L490.04,723.96 L491,725.02 L491.94,726.07 L492.88,727.12 L493.82,728.16 L494.75,729.19 L495.67,730.2 L496.59,731.21 L497.51,732.21 L498.41,733.19 L499.32,734.16 L500.22,735.12 L501.11,736.06 L502,736.98 L502.89,737.89" fill="none" stroke="#1f77b4" stroke-width="3.2" stroke-linejoin="round" />
<path d="M63.42,958.78 L65.02,958.8 L66.62,958.8 L68.2,958.79 L69.79,958.76 L71.36,958.72 L72.93,958.67 L74.5,958.6 L76.05,958.52 L77.61,958.43 L79.15,958.32 L80.69,958.2 L82.23,958.06 L83.75,957.92 L85.28,957.76 L86.79,957.58 L88.31,957.4 L89.81,957.2 L91.31,956.98 L92.81,956.76 L94.29,956.52 L95.78,956.27 L97.25,956.01 L98.72,955.73 L100.19,955.44 L101.65,955.14 L103.1,954.83 L104.55,954.51 L106,954.17 L107.44,953.82 L108.87,953.47 L110.29,953.09 L111.72,952.71 L113.13,952.32 L114.54,951.91 L115.95,951.49 L117.35,951.06 L118.74,950.62 L120.13,950.17 L121.51,949.71 L122.89,949.24 L124.26,948.75 L125.63,948.26 L126.99,947.75 L128.35,947.24 L129.7,946.71 L131.05,946.17 L132.39,945.62 L133.73,945.07 L135.06,944.5 L136.39,943.92 L137.71,943.33 L139.02,942.73 L140.33,942.12 L141.64,941.5 L142.94,940.88 L144.23,940.24 L145.52,939.59 L146.81,938.93 L148.09,938.27 L149.37,937.59 L150.64,936.91 L151.9,936.21 L153.16,935.51 L154.42,934.8 L155.67,934.08 L156.92,933.34 L158.16,932.61 L159.39,931.86 L160.63,931.1 L161.85,930.34 L163.07,929.56 L164.29,928.78 L165.5,927.99 L166.71,927.19 L167.92,926.39 L169.11,925.57 L170.31,924.75 L171.5,923.92 L172.68,923.08 L173.86,922.24 L175.04,921.38 L176.21,920.52 L177.38,919.65 L178.54,918.78 L179.7,917.9 L180.85,917.01 L182,916.11 L183.14,915.2 L184.28,914.29 L185.42,913.37 L186.55,912.45 L187.67,911.52 L188.79,910.58 L189.91,909.63 L191.03,908.68 L192.13,907.72 L193.24,906.76 L194.34,905.79 L195.44,904.81 L196.53,903.83 L197.62,902.84 L198.7,901.85 L199.78,900.85 L200.85,899.84 L201.93,898.83 L202.99,897.81 L204.06,896.79 L205.11,895.76 L206.17,894.73 L207.22,893.69 L208.27,892.64 L209.31,891.59 L210.35,890.54 L211.38,889.48 L212.41,888.42 L213.44,887.35 L214.46,886.27 L215.48,885.2 L216.5,884.11 L217.51,883.03 L218.52,881.94 L219.52,880.84 L220.52,879.74 L221.52,878.64 L222.51,877.53 L223.5,876.42 L224.48,875.3 L225.46,874.18 L226.44,873.06 L227.41,871.93 L228.38,870.8 L229.35,869.67 L230.31,868.53 L231.27,867.39 L232.23,866.25 L233.18,865.1 L234.13,863.95 L235.07,862.8 L236.01,861.64 L236.95,860.48 L237.89,859.32 L238.82,858.16 L239.75,856.99 L240.67,855.82 L241.59,854.65 L242.51,853.48 L243.42,852.3 L244.33,851.12 L245.24,849.94 L246.14,848.76 L247.04,847.58 L247.94,846.39 L248.84,845.21 L249.73,844.02 L250.61,842.83 L251.5,841.63 L252.38,840.44 L253.26,839.25 L254.13,838.05 L255.01,836.85 L255.87,835.65 L256.74,834.46 L257.6,833.26 L258.46,832.05 L259.32,830.85 L260.17,829.65 L261.02,828.45 L261.87,827.24 L262.71,826.04 L263.56,824.83 L264.4,823.63 L265.23,822.42 L266.07,821.22 L266.9,820.01 L267.73,818.8 L268.55,817.59 L269.38,816.38 L270.2,815.17 L271.02,813.96 L271.84,812.75 L272.66,811.54 L273.47,810.33 L274.29,809.12 L275.1,807.91 L275.91,806.69 L276.72,805.48 L277.53,804.26 L278.33,803.05 L279.14,801.83 L279.94,800.62 L280.74,799.4 L281.54,798.18 L282.34,796.96 L283.14,795.74 L283.94,794.52 L284.74,793.3 L285.54,792.08 L286.34,790.86 L287.13,789.64 L287.93,788.42 L288.73,787.2 L289.52,785.97 L290.32,784.75 L291.11,783.53 L291.91,782.3 L292.7,781.08 L293.5,779.85 L294.29,778.62 L295.09,777.4 L295.89,776.17 L296.69,774.94 L297.48,773.71 L298.28,772.48 L299.08,771.26 L299.88,770.03 L300.68,768.79 L301.48,767.56 L302.29,766.33 L303.09,765.1 L303.9,763.87 L304.7,762.63 L305.51,761.4 L306.32,760.17 L307.13,758.93 L307.94,757.7 L308.76,756.46 L309.57,755.22 L310.39,753.99 L311.21,752.75 L312.03,751.51 L312.85,750.28 L313.68,749.04 L314.51,747.8 L315.34,746.57 L316.18,745.33 L317.02,744.1 L317.86,742.87 L318.7,741.64 L319.55,740.42 L320.41,739.19 L321.26,737.97 L322.13,736.75 L322.99,735.54 L323.86,734.32 L324.74,733.12 L325.62,731.91 L326.51,730.71 L327.4,729.52 L328.29,728.32 L329.2,727.14 L330.11,725.96 L331.02,724.78 L331.94,723.61 L332.87,722.45 L333.8,721.29 L334.74,720.14 L335.69,718.99 L336.65,717.85 L337.61,716.72 L338.58,715.6 L339.56,714.48 L340.54,713.37 L341.54,712.27 L342.54,711.18 L343.55,710.1 L344.57,709.02 L345.6,707.96 L346.63,706.9 L347.68,705.85 L348.74,704.82 L349.8,703.79 L350.88,702.77 L351.96,701.77 L353.06,700.77 L354.16,699.79 L355.28,698.82 L356.4,697.86 L357.54,696.91 L358.69,695.97 L359.85,695.05 L361.02,694.14 L362.2,693.24 L363.39,692.35 L364.59,691.48 L365.81,690.63 L367.03,689.79 L368.26,688.96 L369.51,688.16 L370.76,687.37 L372.02,686.6 L373.29,685.85 L374.57,685.12 L375.86,684.41 L377.15,683.72 L378.46,683.05 L379.77,682.41 L381.08,681.79 L382.41,681.19 L383.73,680.62 L385.07,680.07 L386.41,679.56 L387.76,679.06 L389.11,678.6 L390.47,678.16 L391.83,677.75 L393.2,677.38 L394.57,677.03 L395.94,676.71 L397.32,676.43 L398.7,676.18 L400.08,675.96 L401.47,675.78 L402.86,675.63 L404.25,675.51 L405.64,675.43 L407.03,675.39 L408.43,675.39 L409.83,675.42 L411.22,675.5 L412.62,675.61 L414.01,675.76 L415.41,675.95 L416.81,676.19 L418.2,676.47 L419.6,676.78 L420.99,677.14 L422.37,677.53 L423.76,677.95 L425.14,678.42 L426.52,678.91 L427.89,679.44 L429.26,679.99 L430.62,680.58 L431.98,681.19 L433.33,681.83 L434.67,682.49 L436,683.18 L437.33,683.89 L438.65,684.62 L439.96,685.37 L441.25,686.14 L442.54,686.93 L443.82,687.73 L445.08,688.55 L446.34,689.38 L447.58,690.23 L448.82,691.09 L450.04,691.96 L451.26,692.84 L452.46,693.74 L453.66,694.65 L454.84,695.58 L456.02,696.51 L457.19,697.46 L458.34,698.41 L459.49,699.38 L460.64,700.36 L461.77,701.34 L462.89,702.34 L464.01,703.34 L465.12,704.35 L466.22,705.37 L467.32,706.4 L468.4,707.43 L469.48,708.47 L470.55,709.52 L471.62,710.57 L472.68,711.63 L473.73,712.7 L474.78,713.76 L475.82,714.84 L476.86,715.91 L477.89,716.99 L478.91,718.07 L479.93,719.16 L480.94,720.25 L481.95,721.34 L482.95,722.43 L483.95,723.52 L484.95,724.61 L485.94,725.71 L486.92,726.8 L487.91,727.89 L488.89,728.98 L489.86,730.07 L490.83,731.16 L491.8,732.24 L492.77,733.33 L493.73,734.41 L494.69,735.48 L495.65,736.56 L496.6,737.63 L497.56,738.69 L498.51,739.75 L499.46,740.8 L500.4,741.85 L501.35,742.89 L502.3,743.93 L503.24,744.96" fill="none" stroke="#ff7f0e" stroke-width="3.2" stroke-linejoin="round" />
<path d="M63.63,959.25 L65.12,959.2 L66.6,959.15 L68.08,959.08 L69.55,959 L71.01,958.91 L72.47,958.81 L73.93,958.69 L75.38,958.57 L76.83,958.43 L78.26,958.29 L79.7,958.13 L81.13,957.96 L82.55,957.78 L83.97,957.59 L85.39,957.39 L86.79,957.17 L88.2,956.95 L89.6,956.72 L90.99,956.47 L92.38,956.22 L93.76,955.95 L95.14,955.68 L96.51,955.39 L97.88,955.09 L99.25,954.79 L100.6,954.47 L101.96,954.15 L103.31,953.81 L104.65,953.46 L105.99,953.11 L107.32,952.74 L108.65,952.37 L109.98,951.98 L111.3,951.59 L112.61,951.18 L113.93,950.77 L115.23,950.35 L116.53,949.92 L117.83,949.47 L119.12,949.02 L120.41,948.56 L121.69,948.1 L122.97,947.62 L124.24,947.13 L125.51,946.64 L126.78,946.13 L128.04,945.62 L129.3,945.1 L130.55,944.57 L131.79,944.03 L133.04,943.48 L134.28,942.93 L135.51,942.36 L136.74,941.79 L137.97,941.21 L139.19,940.62 L140.4,940.03 L141.62,939.42 L142.82,938.81 L144.03,938.19 L145.23,937.56 L146.43,936.92 L147.62,936.28 L148.81,935.63 L149.99,934.97 L151.17,934.3 L152.35,933.63 L153.52,932.95 L154.68,932.26 L155.85,931.57 L157.01,930.86 L158.16,930.15 L159.32,929.44 L160.46,928.71 L161.61,927.98 L162.75,927.24 L163.89,926.5 L165.02,925.75 L166.15,924.99 L167.27,924.23 L168.4,923.46 L169.51,922.68 L170.63,921.9 L171.74,921.11 L172.84,920.31 L173.95,919.51 L175.05,918.7 L176.14,917.88 L177.24,917.06 L178.33,916.24 L179.41,915.4 L180.49,914.57 L181.57,913.72 L182.65,912.87 L183.72,912.02 L184.79,911.16 L185.85,910.29 L186.91,909.42 L187.97,908.54 L189.03,907.66 L190.08,906.77 L191.13,905.88 L192.17,904.98 L193.21,904.08 L194.25,903.17 L195.29,902.26 L196.32,901.34 L197.35,900.42 L198.37,899.49 L199.4,898.56 L200.42,897.62 L201.43,896.68 L202.45,895.74 L203.46,894.79 L204.46,893.83 L205.47,892.88 L206.47,891.91 L207.47,890.95 L208.46,889.98 L209.46,889 L210.45,888.02 L211.43,887.04 L212.42,886.06 L213.4,885.07 L214.38,884.07 L215.36,883.07 L216.33,882.07 L217.3,881.07 L218.27,880.06 L219.23,879.05 L220.19,878.04 L221.15,877.02 L222.11,876 L223.07,874.98 L224.02,873.95 L224.97,872.92 L225.91,871.89 L226.86,870.85 L227.8,869.81 L228.74,868.77 L229.68,867.73 L230.61,866.68 L231.54,865.64 L232.47,864.59 L233.4,863.53 L234.33,862.48 L235.25,861.42 L236.17,860.36 L237.09,859.3 L238.01,858.23 L238.92,857.17 L239.83,856.1 L240.74,855.03 L241.65,853.96 L242.55,852.88 L243.46,851.81 L244.36,850.73 L245.26,849.65 L246.15,848.57 L247.05,847.49 L247.94,846.41 L248.83,845.33 L249.72,844.24 L250.61,843.16 L251.49,842.07 L252.37,840.98 L253.25,839.89 L254.13,838.8 L255.01,837.71 L255.89,836.62 L256.76,835.53 L257.63,834.43 L258.5,833.34 L259.37,832.25 L260.24,831.15 L261.1,830.06 L261.97,828.96 L262.83,827.87 L263.69,826.77 L264.55,825.68 L265.41,824.58 L266.26,823.49 L267.12,822.39 L267.97,821.29 L268.82,820.2 L269.67,819.1 L270.52,818 L271.37,816.91 L272.22,815.81 L273.07,814.72 L273.92,813.62 L274.77,812.53 L275.61,811.43 L276.46,810.34 L277.3,809.24 L278.15,808.15 L278.99,807.06 L279.83,805.96 L280.68,804.87 L281.52,803.78 L282.37,802.69 L283.21,801.6 L284.05,800.51 L284.9,799.42 L285.74,798.33 L286.58,797.24 L287.43,796.16 L288.27,795.07 L289.12,793.98 L289.96,792.9 L290.81,791.82 L291.66,790.73 L292.51,789.65 L293.35,788.57 L294.2,787.5 L295.05,786.42 L295.9,785.34 L296.76,784.27 L297.61,783.19 L298.46,782.12 L299.32,781.05 L300.18,779.98 L301.03,778.91 L301.89,777.84 L302.76,776.78 L303.62,775.71 L304.48,774.65 L305.35,773.59 L306.22,772.53 L307.09,771.47 L307.96,770.42 L308.83,769.37 L309.71,768.31 L310.58,767.26 L311.46,766.22 L312.34,765.17 L313.23,764.12 L314.11,763.08 L315,762.04 L315.89,761 L316.79,759.97 L317.68,758.93 L318.58,757.9 L319.49,756.87 L320.39,755.85 L321.3,754.82 L322.21,753.8 L323.12,752.78 L324.04,751.76 L324.96,750.75 L325.88,749.73 L326.8,748.72 L327.73,747.72 L328.67,746.71 L329.6,745.71 L330.54,744.71 L331.48,743.71 L332.43,742.72 L333.38,741.73 L334.33,740.74 L335.29,739.75 L336.25,738.77 L337.22,737.79 L338.19,736.81 L339.16,735.84 L340.14,734.87 L341.12,733.9 L342.11,732.94 L343.1,731.98 L344.1,731.02 L345.1,730.06 L346.1,729.11 L347.11,728.16 L348.12,727.22 L349.14,726.28 L350.16,725.34 L351.19,724.41 L352.23,723.47 L353.26,722.55 L354.31,721.62 L355.35,720.7 L356.41,719.79 L357.47,718.88 L358.53,717.97 L359.6,717.06 L360.67,716.16 L361.75,715.26 L362.84,714.37 L363.93,713.48 L365.03,712.6 L366.13,711.72 L367.23,710.85 L368.35,709.98 L369.46,709.12 L370.59,708.26 L371.71,707.41 L372.85,706.57 L373.98,705.73 L375.12,704.91 L376.27,704.08 L377.42,703.27 L378.58,702.46 L379.74,701.66 L380.91,700.87 L382.08,700.09 L383.25,699.32 L384.44,698.55 L385.62,697.8 L386.81,697.05 L388,696.32 L389.2,695.59 L390.41,694.87 L391.61,694.17 L392.82,693.47 L394.04,692.79 L395.26,692.12 L396.48,691.46 L397.71,690.81 L398.95,690.17 L400.18,689.54 L401.42,688.93 L402.67,688.33 L403.92,687.74 L405.17,687.17 L406.43,686.61 L407.69,686.06 L408.95,685.52 L410.22,685.01 L411.5,684.5 L412.77,684.01 L414.05,683.53 L415.33,683.07 L416.62,682.63 L417.91,682.2 L419.21,681.78 L420.5,681.38 L421.8,681 L423.11,680.64 L424.42,680.29 L425.73,679.96 L427.04,679.64 L428.36,679.35 L429.68,679.07 L431,678.8 L432.33,678.56 L433.65,678.33 L434.98,678.12 L436.32,677.93 L437.65,677.76 L438.99,677.61 L440.32,677.47 L441.66,677.35 L443,677.25 L444.34,677.17 L445.69,677.11 L447.03,677.07 L448.37,677.04 L449.72,677.04 L451.06,677.05 L452.41,677.09 L453.75,677.14 L455.1,677.21 L456.44,677.31 L457.79,677.42 L459.13,677.55 L460.48,677.7 L461.82,677.88 L463.16,678.07 L464.5,678.28 L465.84,678.52 L467.18,678.77 L468.51,679.05 L469.85,679.35 L471.18,679.66 L472.51,680 L473.84,680.36 L475.17,680.74 L476.49,681.15 L477.81,681.57 L479.13,682.02 L480.44,682.49 L481.75,682.98 L483.06,683.49 L484.37,684.03 L485.67,684.58 L486.97,685.16 L488.26,685.76 L489.55,686.39 L490.84,687.04 L492.12,687.71 L493.39,688.4 L494.67,689.12 L495.93,689.86 L497.19,690.62 L498.45,691.41 L499.7,692.22 L500.95,693.06 L502.19,693.91 L503.43,694.8" fill="none" stroke="#9467bd" stroke-width="3.1" stroke-linejoin="round" />
<path d="M64.16,959.06 L65.56,959.08 L66.97,959.1 L68.38,959.1 L69.78,959.1 L71.18,959.08 L72.59,959.04 L73.99,959 L75.39,958.95 L76.79,958.88 L78.19,958.8 L79.59,958.71 L80.98,958.61 L82.38,958.5 L83.77,958.37 L85.17,958.24 L86.56,958.09 L87.95,957.94 L89.34,957.77 L90.73,957.59 L92.11,957.4 L93.5,957.2 L94.88,956.98 L96.26,956.76 L97.64,956.53 L99.02,956.28 L100.39,956.03 L101.77,955.77 L103.14,955.49 L104.51,955.2 L105.88,954.91 L107.24,954.6 L108.61,954.29 L109.97,953.96 L111.33,953.62 L112.68,953.27 L114.04,952.92 L115.39,952.55 L116.74,952.17 L118.09,951.79 L119.43,951.39 L120.78,950.99 L122.12,950.57 L123.45,950.15 L124.79,949.71 L126.12,949.27 L127.45,948.82 L128.77,948.35 L130.1,947.88 L131.42,947.4 L132.74,946.91 L134.05,946.41 L135.36,945.9 L136.67,945.39 L137.98,944.86 L139.28,944.33 L140.58,943.78 L141.87,943.23 L143.16,942.67 L144.45,942.1 L145.74,941.53 L147.02,940.94 L148.3,940.34 L149.57,939.74 L150.84,939.13 L152.11,938.51 L153.37,937.88 L154.63,937.25 L155.89,936.61 L157.14,935.95 L158.39,935.3 L159.63,934.63 L160.87,933.95 L162.11,933.27 L163.34,932.58 L164.57,931.88 L165.79,931.18 L167.01,930.46 L168.23,929.74 L169.44,929.02 L170.65,928.28 L171.85,927.54 L173.04,926.79 L174.24,926.03 L175.43,925.27 L176.61,924.5 L177.79,923.72 L178.96,922.94 L180.13,922.15 L181.3,921.35 L182.46,920.55 L183.61,919.74 L184.76,918.92 L185.91,918.09 L187.05,917.26 L188.18,916.43 L189.31,915.58 L190.43,914.73 L191.55,913.88 L192.67,913.02 L193.78,912.15 L194.88,911.27 L195.98,910.39 L197.07,909.51 L198.16,908.62 L199.24,907.72 L200.31,906.82 L201.38,905.91 L202.45,904.99 L203.5,904.07 L204.56,903.15 L205.6,902.22 L206.64,901.28 L207.68,900.34 L208.71,899.39 L209.73,898.44 L210.75,897.49 L211.76,896.52 L212.77,895.56 L213.77,894.58 L214.77,893.61 L215.76,892.63 L216.75,891.64 L217.73,890.65 L218.71,889.65 L219.68,888.65 L220.65,887.65 L221.61,886.64 L222.57,885.63 L223.52,884.61 L224.47,883.59 L225.42,882.56 L226.35,881.53 L227.29,880.5 L228.22,879.46 L229.15,878.42 L230.07,877.37 L230.99,876.32 L231.91,875.27 L232.82,874.21 L233.72,873.15 L234.63,872.08 L235.53,871.01 L236.42,869.94 L237.31,868.87 L238.2,867.79 L239.09,866.71 L239.97,865.62 L240.85,864.53 L241.72,863.44 L242.59,862.35 L243.46,861.25 L244.33,860.15 L245.19,859.05 L246.05,857.94 L246.91,856.83 L247.76,855.72 L248.61,854.61 L249.46,853.49 L250.31,852.37 L251.15,851.25 L251.99,850.13 L252.83,849 L253.67,847.87 L254.5,846.74 L255.33,845.61 L256.16,844.47 L256.99,843.34 L257.81,842.2 L258.64,841.06 L259.46,839.91 L260.28,838.77 L261.1,837.62 L261.91,836.48 L262.73,835.33 L263.54,834.18 L264.35,833.02 L265.16,831.87 L265.97,830.71 L266.78,829.56 L267.59,828.4 L268.39,827.24 L269.2,826.08 L270,824.92 L270.8,823.76 L271.6,822.6 L272.4,821.43 L273.2,820.27 L274,819.1 L274.8,817.94 L275.6,816.77 L276.4,815.6 L277.19,814.44 L277.99,813.27 L278.79,812.1 L279.58,810.93 L280.38,809.76 L281.18,808.59 L281.97,807.42 L282.77,806.25 L283.56,805.08 L284.36,803.92 L285.16,802.75 L285.95,801.58 L286.75,800.41 L287.55,799.24 L288.35,798.07 L289.15,796.9 L289.95,795.74 L290.75,794.57 L291.55,793.4 L292.35,792.24 L293.15,791.07 L293.96,789.91 L294.76,788.75 L295.57,787.58 L296.38,786.42 L297.18,785.26 L297.99,784.1 L298.81,782.94 L299.62,781.79 L300.43,780.63 L301.25,779.48 L302.07,778.32 L302.89,777.17 L303.71,776.02 L304.53,774.87 L305.35,773.73 L306.18,772.58 L307.01,771.44 L307.84,770.3 L308.67,769.16 L309.51,768.02 L310.35,766.88 L311.19,765.75 L312.03,764.62 L312.87,763.49 L313.72,762.36 L314.57,761.23 L315.43,760.11 L316.28,758.99 L317.14,757.87 L318,756.76 L318.87,755.64 L319.73,754.53 L320.6,753.43 L321.48,752.32 L322.36,751.22 L323.24,750.12 L324.12,749.03 L325.01,747.93 L325.9,746.84 L326.79,745.76 L327.69,744.67 L328.59,743.59 L329.5,742.52 L330.41,741.44 L331.32,740.37 L332.24,739.31 L333.16,738.24 L334.09,737.18 L335.02,736.13 L335.95,735.07 L336.89,734.03 L337.83,732.98 L338.78,731.94 L339.73,730.9 L340.69,729.87 L341.65,728.84 L342.61,727.82 L343.58,726.8 L344.56,725.78 L345.54,724.77 L346.52,723.77 L347.51,722.76 L348.51,721.77 L349.51,720.77 L350.52,719.78 L351.53,718.8 L352.54,717.82 L353.57,716.85 L354.59,715.88 L355.63,714.91 L356.67,713.95 L357.71,713 L358.76,712.05 L359.82,711.1 L360.88,710.17 L361.95,709.23 L363.02,708.3 L364.1,707.38 L365.19,706.47 L366.28,705.56 L367.38,704.66 L368.48,703.77 L369.59,702.88 L370.7,702 L371.82,701.13 L372.95,700.27 L374.08,699.42 L375.21,698.58 L376.36,697.75 L377.5,696.93 L378.66,696.12 L379.81,695.32 L380.98,694.54 L382.15,693.76 L383.32,693 L384.5,692.24 L385.68,691.51 L386.87,690.78 L388.07,690.07 L389.26,689.37 L390.47,688.68 L391.68,688.01 L392.89,687.36 L394.11,686.72 L395.34,686.09 L396.56,685.48 L397.8,684.89 L399.04,684.31 L400.28,683.75 L401.53,683.21 L402.78,682.69 L404.04,682.18 L405.3,681.69 L406.56,681.22 L407.83,680.77 L409.11,680.34 L410.39,679.92 L411.67,679.53 L412.96,679.16 L414.25,678.81 L415.55,678.48 L416.85,678.17 L418.15,677.88 L419.46,677.61 L420.78,677.37 L422.09,677.15 L423.42,676.95 L424.74,676.77 L426.07,676.62 L427.4,676.5 L428.74,676.39 L430.08,676.32 L431.43,676.26 L432.77,676.24 L434.13,676.23 L435.48,676.26 L436.84,676.31 L438.21,676.39 L439.57,676.49 L440.94,676.62 L442.32,676.78 L443.7,676.97 L445.08,677.19 L446.46,677.43 L447.84,677.69 L449.23,677.98 L450.62,678.3 L452.01,678.64 L453.4,679 L454.79,679.38 L456.18,679.78 L457.57,680.2 L458.96,680.64 L460.35,681.1 L461.74,681.58 L463.12,682.07 L464.51,682.58 L465.89,683.11 L467.27,683.65 L468.64,684.2 L470.01,684.77 L471.38,685.35 L472.75,685.94 L474.1,686.54 L475.46,687.15 L476.81,687.77 L478.15,688.4 L479.49,689.03 L480.82,689.67 L482.14,690.32 L483.45,690.98 L484.76,691.64 L486.06,692.3 L487.36,692.96 L488.64,693.63 L489.91,694.3 L491.18,694.97 L492.43,695.64 L493.68,696.3 L494.91,696.97 L496.14,697.64 L497.35,698.3 L498.55,698.95 L499.74,699.61 L500.92,700.25 L502.08,700.89 L503.23,701.53" fill="none" stroke="#2ca02c" stroke-width="3.7" stroke-linejoin="round" />
<line x1="66.7" y1="973.2" x2="66.7" y2="977.4" stroke="#000" stroke-width="1.6" />
<line x1="152.16" y1="973.2" x2="152.16" y2="977.4" stroke="#000" stroke-width="1.6" />
<line x1="237.62" y1="973.2" x2="237.62" y2="977.4" stroke="#000" stroke-width="1.6" />
<line x1="323.08" y1="973.2" x2="323.08" y2="977.4" stroke="#000" stroke-width="1.6" />
<line x1="408.54" y1="973.2" x2="408.54" y2="977.4" stroke="#000" stroke-width="1.6" />
<line x1="494" y1="973.2" x2="494" y2="977.4" stroke="#000" stroke-width="1.6" />
<line x1="39.8" y1="958.2" x2="44" y2="958.2" stroke="#000" stroke-width="1.6" />
<line x1="39.8" y1="901.82" x2="44" y2="901.82" stroke="#000" stroke-width="1.6" />
<line x1="39.8" y1="845.44" x2="44" y2="845.44" stroke="#000" stroke-width="1.6" />
<line x1="39.8" y1="789.06" x2="44" y2="789.06" stroke="#000" stroke-width="1.6" />
<line x1="39.8" y1="732.68" x2="44" y2="732.68" stroke="#000" stroke-width="1.6" />
<line x1="39.8" y1="676.3" x2="44" y2="676.3" stroke="#000" stroke-width="1.6" />
<rect x="44" y="662" width="479.3" height="311.2" fill="none" stroke="#000" stroke-width="2.0"/>
<text transform="translate(66.7,1000.7) scale(1,1.0)" font-size="23" text-anchor="middle" >0</text>
<text transform="translate(496,1000.7) scale(1,1.0)" font-size="23" text-anchor="middle" >250</text>
<rect x="543.6" y="662" width="478" height="311.2" fill="#fff"/>
<line x1="564.3" y1="662" x2="564.3" y2="973.2" stroke="#b0b0b0" stroke-width="1.4" />
<line x1="649.7" y1="662" x2="649.7" y2="973.2" stroke="#b0b0b0" stroke-width="1.4" />
<line x1="735.1" y1="662" x2="735.1" y2="973.2" stroke="#b0b0b0" stroke-width="1.4" />
<line x1="820.5" y1="662" x2="820.5" y2="973.2" stroke="#b0b0b0" stroke-width="1.4" />
<line x1="905.9" y1="662" x2="905.9" y2="973.2" stroke="#b0b0b0" stroke-width="1.4" />
<line x1="991.3" y1="662" x2="991.3" y2="973.2" stroke="#b0b0b0" stroke-width="1.4" />
<line x1="543.6" y1="958.2" x2="1021.6" y2="958.2" stroke="#b0b0b0" stroke-width="1.4" />
<line x1="543.6" y1="901.82" x2="1021.6" y2="901.82" stroke="#b0b0b0" stroke-width="1.4" />
<line x1="543.6" y1="845.44" x2="1021.6" y2="845.44" stroke="#b0b0b0" stroke-width="1.4" />
<line x1="543.6" y1="789.06" x2="1021.6" y2="789.06" stroke="#b0b0b0" stroke-width="1.4" />
<line x1="543.6" y1="732.68" x2="1021.6" y2="732.68" stroke="#b0b0b0" stroke-width="1.4" />
<line x1="543.6" y1="676.3" x2="1021.6" y2="676.3" stroke="#b0b0b0" stroke-width="1.4" />
<g fill="#1a1a1a">
<circle cx="564.8" cy="935.3" r="4"/>
<circle cx="573.1" cy="958.9" r="4"/>
<circle cx="581.63" cy="958.9" r="4"/>
<circle cx="590.17" cy="958" r="4"/>
<circle cx="598.7" cy="956.2" r="4"/>
<circle cx="607.24" cy="953" r="4"/>
<circle cx="615.77" cy="951" r="4"/>
<circle cx="624.3" cy="947.3" r="4"/>
<circle cx="632.84" cy="943.9" r="4"/>
<circle cx="641.37" cy="939.8" r="4"/>
<circle cx="649.91" cy="933.8" r="4"/>
<circle cx="658.44" cy="930.3" r="4"/>
<circle cx="666.97" cy="922.7" r="4"/>
<circle cx="675.51" cy="917.7" r="4"/>
<circle cx="684.04" cy="914.6" r="4"/>
<circle cx="692.58" cy="909.2" r="4"/>
<circle cx="701.11" cy="904.5" r="4"/>
<circle cx="709.64" cy="900.7" r="4"/>
<circle cx="718.18" cy="898.5" r="4"/>
<circle cx="726.71" cy="895.4" r="4"/>
<circle cx="735.25" cy="895.1" r="4"/>
<circle cx="743.78" cy="895.1" r="4"/>
<circle cx="752.31" cy="895.1" r="4"/>
<circle cx="760.85" cy="895.4" r="4"/>
<circle cx="769.38" cy="898.5" r="4"/>
<circle cx="777.92" cy="900.9" r="4"/>
<circle cx="786.45" cy="904.7" r="4"/>
<circle cx="794.98" cy="909.7" r="4"/>
<circle cx="803.52" cy="914.7" r="4"/>
<circle cx="812.05" cy="920.3" r="4"/>
<circle cx="820.59" cy="927.2" r="4"/>
<circle cx="829.12" cy="932.9" r="4"/>
<circle cx="837.65" cy="940.8" r="4"/>
<circle cx="846.19" cy="946.3" r="4"/>
<circle cx="854.72" cy="953.5" r="4"/>
<circle cx="863.26" cy="956.3" r="4"/>
<circle cx="871.79" cy="957.9" r="4"/>
<circle cx="880.32" cy="954.2" r="4"/>
<circle cx="888.86" cy="955.1" r="4"/>
<circle cx="897.39" cy="948.2" r="4"/>
<circle cx="905.93" cy="941.1" r="4"/>
<circle cx="914.46" cy="930.1" r="4"/>
<circle cx="922.99" cy="917.9" r="4"/>
<circle cx="931.53" cy="901.9" r="4"/>
<circle cx="940.06" cy="883.1" r="4"/>
<circle cx="948.6" cy="861" r="4"/>
<circle cx="957.13" cy="836.4" r="4"/>
<circle cx="965.66" cy="811" r="4"/>
<circle cx="974.2" cy="780.2" r="4"/>
<circle cx="982.73" cy="751.3" r="4"/>
<circle cx="991.27" cy="713.5" r="4"/>
<circle cx="999.8" cy="675.7" r="4"/>
</g>
<path d="M564.08,958.68 L566.16,958.55 L568.21,958.39 L570.24,958.19 L572.25,957.95 L574.24,957.67 L576.2,957.36 L578.14,957.02 L580.06,956.64 L581.96,956.22 L583.84,955.77 L585.7,955.29 L587.54,954.78 L589.36,954.23 L591.16,953.66 L592.94,953.05 L594.71,952.41 L596.45,951.75 L598.18,951.05 L599.89,950.32 L601.59,949.57 L603.26,948.79 L604.92,947.99 L606.57,947.16 L608.2,946.3 L609.81,945.42 L611.41,944.51 L613,943.58 L614.57,942.63 L616.13,941.65 L617.67,940.65 L619.2,939.63 L620.72,938.59 L622.23,937.53 L623.72,936.45 L625.2,935.35 L626.68,934.24 L628.14,933.1 L629.59,931.95 L631.03,930.78 L632.46,929.59 L633.88,928.39 L635.29,927.18 L636.69,925.95 L638.09,924.7 L639.47,923.44 L640.85,922.17 L642.22,920.89 L643.59,919.6 L644.95,918.29 L646.3,916.98 L647.65,915.65 L648.99,914.32 L650.32,912.98 L651.65,911.63 L652.98,910.27 L654.3,908.9 L655.62,907.53 L656.93,906.16 L658.25,904.78 L659.56,903.39 L660.86,902 L662.17,900.6 L663.47,899.21 L664.78,897.81 L666.08,896.41 L667.38,895.01 L668.68,893.61 L669.98,892.2 L671.28,890.8 L672.59,889.4 L673.89,888.01 L675.2,886.61 L676.51,885.22 L677.82,883.83 L679.13,882.45 L680.45,881.07 L681.77,879.69 L683.09,878.32 L684.42,876.96 L685.75,875.61 L687.09,874.26 L688.43,872.92 L689.78,871.59 L691.13,870.27 L692.49,868.96 L693.86,867.66 L695.23,866.37 L696.61,865.09 L698,863.83 L699.4,862.58 L700.81,861.34 L702.22,860.11 L703.64,858.9 L705.08,857.71 L706.52,856.53 L707.97,855.37 L709.44,854.22 L710.91,853.1 L712.4,851.99 L713.9,850.89 L715.41,849.82 L716.93,848.77 L718.46,847.74 L720.01,846.73 L721.57,845.74 L723.15,844.78 L724.74,843.83 L726.34,842.91 L727.96,842.02 L729.6,841.14 L731.25,840.3 L732.91,839.48 L734.6,838.68 L736.3,837.91 L738.01,837.17 L739.74,836.47 L741.49,835.79 L743.24,835.15 L745.01,834.55 L746.79,833.99 L748.57,833.48 L750.36,833.01 L752.15,832.59 L753.95,832.22 L755.75,831.91 L757.55,831.66 L759.35,831.46 L761.15,831.33 L762.95,831.27 L764.73,831.27 L766.52,831.34 L768.29,831.49 L770.05,831.71 L771.81,832.02 L773.55,832.4 L775.28,832.86 L776.99,833.4 L778.69,834 L780.38,834.68 L782.05,835.43 L783.72,836.24 L785.36,837.11 L786.99,838.04 L788.61,839.03 L790.21,840.07 L791.8,841.16 L793.37,842.3 L794.93,843.48 L796.47,844.7 L798,845.96 L799.51,847.26 L801,848.59 L802.47,849.96 L803.93,851.35 L805.37,852.76 L806.8,854.2 L808.2,855.65 L809.59,857.13 L810.96,858.61 L812.31,860.11 L813.64,861.61 L814.96,863.12 L816.25,864.64 L817.53,866.15 L818.78,867.66 L820.02,869.16 L821.23,870.65 L822.43,872.14 L823.61,873.62 L824.77,875.09 L825.92,876.56 L827.05,878.02 L828.17,879.47 L829.27,880.92 L830.37,882.37 L831.45,883.81 L832.52,885.25 L833.58,886.68 L834.64,888.12 L835.69,889.55 L836.73,890.98 L837.76,892.41 L838.8,893.84 L839.83,895.27 L840.85,896.7 L841.88,898.13 L842.9,899.56 L843.93,901 L844.96,902.43 L845.99,903.87 L847.03,905.32 L848.07,906.77 L849.11,908.22 L850.16,909.68 L851.22,911.14 L852.29,912.61 L853.37,914.09 L854.46,915.57 L855.56,917.06 L856.67,918.56 L857.8,920.06 L858.94,921.58 L860.09,923.11 L861.27,924.64 L862.46,926.19 L863.67,927.74 L864.9,929.31 L866.14,930.89 L867.41,932.48 L868.7,934.06 L870.01,935.65 L871.34,937.22 L872.69,938.78 L874.07,940.32 L875.46,941.83 L876.87,943.31 L878.3,944.75 L879.75,946.16 L881.23,947.52 L882.72,948.82 L884.24,950.07 L885.77,951.25 L887.33,952.36 L888.9,953.41 L890.5,954.37 L892.11,955.25 L893.75,956.03 L895.41,956.73 L897.09,957.32 L898.79,957.81 L900.5,958.18 L902.24,958.44 L903.99,958.59 L905.75,958.62 L907.51,958.53 L909.27,958.33 L911.02,958.01 L912.75,957.58 L914.45,957.04 L916.13,956.38 L917.78,955.61 L919.38,954.73 L920.94,953.74 L922.46,952.66 L923.94,951.49 L925.38,950.25 L926.78,948.94 L928.14,947.59 L929.47,946.19 L930.75,944.77 L932.01,943.32 L933.23,941.86 L934.41,940.38 L935.56,938.88 L936.68,937.36 L937.76,935.83 L938.82,934.28 L939.84,932.71 L940.84,931.13 L941.8,929.53 L942.74,927.92 L943.65,926.3 L944.53,924.66 L945.39,923.01 L946.22,921.34 L947.03,919.66 L947.82,917.97 L948.58,916.27 L949.31,914.56 L950.03,912.83 L950.73,911.1 L951.4,909.35 L952.06,907.6 L952.7,905.84 L953.32,904.06 L953.92,902.28 L954.51,900.49 L955.08,898.7 L955.63,896.89 L956.17,895.08 L956.7,893.26 L957.21,891.44 L957.72,889.61 L958.21,887.78 L958.69,885.94 L959.16,884.1 L959.62,882.25 L960.07,880.4 L960.52,878.54 L960.96,876.69 L961.39,874.83 L961.82,872.97 L962.24,871.1 L962.66,869.24 L963.07,867.38 L963.48,865.51 L963.89,863.65 L964.3,861.78 L964.71,859.92 L965.12,858.06 L965.53,856.2 L965.94,854.34 L966.36,852.49 L966.77,850.63 L967.19,848.78 L967.61,846.94 L968.04,845.09 L968.47,843.25 L968.89,841.41 L969.33,839.57 L969.76,837.73 L970.19,835.9 L970.63,834.07 L971.07,832.24 L971.5,830.41 L971.94,828.58 L972.38,826.76 L972.83,824.94 L973.27,823.11 L973.71,821.29 L974.16,819.48 L974.6,817.66 L975.04,815.84 L975.49,814.03 L975.93,812.21 L976.38,810.4 L976.82,808.59 L977.27,806.78 L977.71,804.97 L978.15,803.16 L978.6,801.35 L979.04,799.54 L979.48,797.74 L979.92,795.93 L980.36,794.12 L980.79,792.32 L981.23,790.51 L981.66,788.7 L982.09,786.9 L982.52,785.09 L982.95,783.28 L983.38,781.48 L983.8,779.67 L984.22,777.86 L984.64,776.06 L985.06,774.25 L985.47,772.44 L985.88,770.63 L986.29,768.82 L986.69,767.01 L987.09,765.2 L987.49,763.39 L987.88,761.57 L988.27,759.76 L988.66,757.94 L989.04,756.13 L989.42,754.31 L989.8,752.49 L990.17,750.67 L990.53,748.85 L990.89,747.02 L991.25,745.2 L991.6,743.37 L991.95,741.54 L992.29,739.71 L992.63,737.88 L992.96,736.04 L993.28,734.2 L993.6,732.36 L993.92,730.52 L994.23,728.68 L994.53,726.83 L994.82,724.98 L995.11,723.13 L995.4,721.28 L995.68,719.42 L995.95,717.56 L996.21,715.7 L996.47,713.83 L996.72,711.96 L996.96,710.09 L997.2,708.22 L997.43,706.34 L997.65,704.46 L997.86,702.57 L998.07,700.68 L998.26,698.79 L998.45,696.89 L998.64,694.99 L998.81,693.09 L998.97,691.18 L999.13,689.27 L999.28,687.36 L999.42,685.44 L999.55,683.52 L999.67,681.59 L999.78,679.66 L999.88,677.72 L999.98,675.78" fill="none" stroke="#1f77b4" stroke-width="3.2" stroke-linejoin="round" />
<path d="M564.02,958.78 L566.05,958.77 L568.05,958.72 L570.04,958.65 L572.01,958.54 L573.96,958.4 L575.89,958.24 L577.81,958.05 L579.71,957.82 L581.59,957.57 L583.46,957.3 L585.31,956.99 L587.15,956.66 L588.96,956.31 L590.77,955.92 L592.56,955.52 L594.33,955.08 L596.09,954.63 L597.84,954.15 L599.57,953.64 L601.29,953.11 L602.99,952.56 L604.68,951.99 L606.36,951.39 L608.02,950.78 L609.68,950.14 L611.32,949.48 L612.95,948.8 L614.57,948.1 L616.17,947.38 L617.77,946.64 L619.35,945.89 L620.93,945.11 L622.49,944.32 L624.04,943.51 L625.59,942.68 L627.12,941.84 L628.65,940.98 L630.17,940.1 L631.67,939.21 L633.17,938.31 L634.67,937.39 L636.15,936.45 L637.63,935.5 L639.1,934.54 L640.56,933.57 L642.02,932.58 L643.46,931.58 L644.91,930.57 L646.34,929.55 L647.78,928.52 L649.2,927.47 L650.62,926.42 L652.04,925.36 L653.45,924.29 L654.86,923.21 L656.26,922.12 L657.66,921.02 L659.06,919.92 L660.45,918.81 L661.84,917.69 L663.23,916.57 L664.61,915.44 L665.99,914.31 L667.37,913.17 L668.75,912.02 L670.13,910.87 L671.51,909.72 L672.88,908.57 L674.26,907.41 L675.63,906.25 L677.01,905.09 L678.38,903.92 L679.76,902.76 L681.13,901.59 L682.51,900.42 L683.89,899.26 L685.27,898.09 L686.65,896.93 L688.04,895.76 L689.42,894.6 L690.81,893.44 L692.21,892.28 L693.6,891.13 L695,889.98 L696.4,888.83 L697.81,887.69 L699.22,886.55 L700.64,885.42 L702.06,884.29 L703.48,883.16 L704.92,882.05 L706.35,880.94 L707.79,879.84 L709.24,878.74 L710.7,877.66 L712.16,876.58 L713.63,875.51 L715.1,874.45 L716.59,873.4 L718.08,872.36 L719.58,871.33 L721.09,870.31 L722.6,869.3 L724.13,868.3 L725.66,867.32 L727.21,866.35 L728.76,865.39 L730.32,864.44 L731.9,863.51 L733.48,862.6 L735.07,861.69 L736.68,860.8 L738.3,859.93 L739.92,859.08 L741.56,858.25 L743.2,857.44 L744.85,856.65 L746.51,855.89 L748.17,855.15 L749.84,854.44 L751.52,853.76 L753.2,853.12 L754.88,852.5 L756.57,851.92 L758.26,851.38 L759.95,850.88 L761.64,850.41 L763.34,849.99 L765.03,849.6 L766.72,849.27 L768.42,848.98 L770.11,848.73 L771.79,848.54 L773.48,848.4 L775.16,848.31 L776.84,848.27 L778.51,848.29 L780.17,848.37 L781.83,848.51 L783.49,848.71 L785.13,848.97 L786.77,849.3 L788.39,849.69 L790.01,850.14 L791.62,850.67 L793.22,851.27 L794.8,851.92 L796.38,852.64 L797.95,853.42 L799.5,854.25 L801.04,855.14 L802.57,856.08 L804.09,857.07 L805.6,858.1 L807.1,859.17 L808.58,860.29 L810.05,861.44 L811.51,862.63 L812.96,863.85 L814.39,865.1 L815.81,866.38 L817.22,867.69 L818.62,869.01 L820,870.36 L821.36,871.72 L822.72,873.1 L824.06,874.48 L825.38,875.88 L826.69,877.29 L827.99,878.69 L829.27,880.1 L830.54,881.51 L831.79,882.91 L833.02,884.31 L834.24,885.7 L835.45,887.07 L836.64,888.43 L837.81,889.78 L838.97,891.11 L840.12,892.42 L841.25,893.73 L842.37,895.03 L843.48,896.32 L844.58,897.6 L845.67,898.89 L846.76,900.17 L847.84,901.45 L848.92,902.74 L849.99,904.04 L851.06,905.34 L852.13,906.66 L853.2,907.99 L854.27,909.33 L855.34,910.69 L856.41,912.07 L857.49,913.47 L858.58,914.9 L859.67,916.35 L860.77,917.83 L861.88,919.33 L863,920.86 L864.13,922.4 L865.27,923.95 L866.42,925.51 L867.59,927.07 L868.77,928.62 L869.96,930.16 L871.17,931.69 L872.4,933.2 L873.65,934.68 L874.91,936.13 L876.19,937.54 L877.49,938.92 L878.82,940.24 L880.16,941.52 L881.53,942.73 L882.93,943.89 L884.34,944.98 L885.78,945.99 L887.25,946.93 L888.75,947.79 L890.27,948.55 L891.82,949.23 L893.4,949.81 L895,950.3 L896.61,950.7 L898.24,951.01 L899.88,951.23 L901.53,951.36 L903.18,951.4 L904.82,951.35 L906.47,951.21 L908.1,950.99 L909.72,950.69 L911.33,950.29 L912.92,949.81 L914.48,949.25 L916.02,948.61 L917.53,947.88 L919.01,947.06 L920.44,946.17 L921.84,945.19 L923.19,944.14 L924.49,943 L925.74,941.79 L926.94,940.5 L928.1,939.15 L929.21,937.73 L930.28,936.26 L931.32,934.73 L932.31,933.16 L933.28,931.55 L934.21,929.9 L935.11,928.23 L935.98,926.53 L936.83,924.81 L937.66,923.07 L938.47,921.33 L939.26,919.58 L940.04,917.83 L940.8,916.09 L941.55,914.35 L942.28,912.6 L943,910.86 L943.71,909.13 L944.41,907.39 L945.1,905.66 L945.77,903.93 L946.44,902.21 L947.09,900.49 L947.74,898.78 L948.38,897.07 L949.01,895.36 L949.64,893.66 L950.25,891.96 L950.86,890.27 L951.46,888.58 L952.06,886.89 L952.65,885.21 L953.23,883.53 L953.8,881.85 L954.37,880.17 L954.94,878.49 L955.49,876.82 L956.05,875.14 L956.59,873.47 L957.14,871.8 L957.68,870.12 L958.21,868.45 L958.74,866.78 L959.26,865.1 L959.79,863.43 L960.3,861.75 L960.82,860.07 L961.33,858.39 L961.84,856.71 L962.35,855.02 L962.85,853.33 L963.35,851.64 L963.85,849.95 L964.35,848.25 L964.84,846.55 L965.34,844.84 L965.83,843.14 L966.31,841.43 L966.8,839.72 L967.28,838 L967.76,836.29 L968.24,834.57 L968.72,832.85 L969.19,831.12 L969.66,829.4 L970.13,827.67 L970.6,825.94 L971.06,824.2 L971.52,822.47 L971.98,820.73 L972.44,818.99 L972.89,817.25 L973.34,815.51 L973.79,813.76 L974.23,812.01 L974.68,810.26 L975.12,808.51 L975.56,806.76 L975.99,805.01 L976.43,803.25 L976.86,801.49 L977.28,799.73 L977.71,797.97 L978.13,796.21 L978.55,794.45 L978.97,792.68 L979.38,790.92 L979.79,789.15 L980.2,787.38 L980.61,785.61 L981.01,783.84 L981.41,782.07 L981.81,780.3 L982.21,778.53 L982.6,776.75 L982.99,774.98 L983.38,773.2 L983.76,771.42 L984.14,769.65 L984.52,767.87 L984.9,766.09 L985.27,764.31 L985.64,762.53 L986.01,760.75 L986.37,758.97 L986.73,757.19 L987.09,755.41 L987.44,753.63 L987.8,751.85 L988.15,750.07 L988.49,748.29 L988.84,746.5 L989.18,744.72 L989.51,742.94 L989.85,741.16 L990.18,739.38 L990.51,737.6 L990.83,735.82 L991.16,734.04 L991.47,732.26 L991.79,730.48 L992.1,728.7 L992.41,726.92 L992.72,725.14 L993.02,723.37 L993.33,721.59 L993.62,719.81 L993.92,718.04 L994.21,716.27 L994.5,714.49 L994.78,712.72 L995.06,710.95 L995.34,709.18 L995.62,707.41 L995.89,705.64 L996.16,703.88 L996.42,702.11 L996.68,700.35 L996.94,698.58 L997.2,696.82 L997.45,695.06 L997.7,693.3 L997.95,691.55 L998.19,689.79 L998.43,688.04 L998.66,686.28 L998.89,684.53 L999.12,682.78 L999.35,681.04 L999.57,679.29 L999.79,677.55 L1000,675.81" fill="none" stroke="#ff7f0e" stroke-width="3.2" stroke-linejoin="round" />
<path d="M564.21,958.95 L566.12,958.89 L568,958.8 L569.86,958.67 L571.71,958.51 L573.53,958.33 L575.33,958.11 L577.11,957.87 L578.88,957.59 L580.62,957.29 L582.35,956.96 L584.05,956.6 L585.74,956.22 L587.42,955.81 L589.08,955.37 L590.72,954.91 L592.34,954.43 L593.95,953.92 L595.55,953.4 L597.13,952.84 L598.7,952.27 L600.25,951.68 L601.79,951.06 L603.32,950.43 L604.84,949.77 L606.35,949.1 L607.84,948.41 L609.33,947.7 L610.8,946.98 L612.26,946.24 L613.72,945.48 L615.17,944.71 L616.6,943.92 L618.03,943.12 L619.46,942.31 L620.87,941.48 L622.28,940.64 L623.69,939.79 L625.08,938.93 L626.48,938.06 L627.86,937.18 L629.25,936.29 L630.63,935.39 L632,934.48 L633.38,933.57 L634.75,932.65 L636.12,931.72 L637.49,930.78 L638.85,929.85 L640.22,928.9 L641.58,927.96 L642.95,927.01 L644.32,926.06 L645.69,925.1 L647.06,924.15 L648.43,923.19 L649.8,922.24 L651.18,921.28 L652.56,920.32 L653.94,919.37 L655.33,918.42 L656.73,917.47 L658.13,916.53 L659.53,915.58 L660.94,914.65 L662.36,913.72 L663.79,912.79 L665.22,911.87 L666.66,910.96 L668.11,910.05 L669.57,909.15 L671.03,908.26 L672.51,907.38 L674,906.51 L675.49,905.66 L677,904.81 L678.52,903.97 L680.06,903.15 L681.6,902.33 L683.16,901.54 L684.73,900.75 L686.31,899.98 L687.9,899.23 L689.51,898.49 L691.12,897.77 L692.74,897.07 L694.37,896.38 L696.01,895.71 L697.65,895.06 L699.3,894.43 L700.96,893.82 L702.62,893.24 L704.29,892.67 L705.97,892.13 L707.64,891.61 L709.32,891.11 L711.01,890.64 L712.69,890.19 L714.38,889.76 L716.07,889.37 L717.76,889 L719.44,888.65 L721.13,888.34 L722.82,888.05 L724.5,887.79 L726.18,887.57 L727.86,887.37 L729.54,887.2 L731.21,887.07 L732.87,886.97 L734.54,886.9 L736.19,886.86 L737.84,886.86 L739.48,886.89 L741.12,886.96 L742.74,887.06 L744.37,887.19 L745.98,887.35 L747.59,887.55 L749.2,887.78 L750.79,888.03 L752.38,888.32 L753.97,888.63 L755.55,888.98 L757.12,889.35 L758.69,889.75 L760.25,890.17 L761.81,890.62 L763.36,891.1 L764.91,891.61 L766.45,892.13 L767.99,892.68 L769.52,893.26 L771.05,893.86 L772.57,894.48 L774.08,895.12 L775.6,895.78 L777.1,896.47 L778.61,897.17 L780.11,897.9 L781.6,898.64 L783.09,899.4 L784.58,900.18 L786.06,900.98 L787.54,901.79 L789.01,902.62 L790.48,903.46 L791.95,904.32 L793.41,905.2 L794.87,906.09 L796.33,906.99 L797.78,907.9 L799.23,908.83 L800.67,909.77 L802.12,910.72 L803.56,911.68 L804.99,912.65 L806.43,913.63 L807.86,914.62 L809.29,915.61 L810.72,916.62 L812.14,917.63 L813.56,918.65 L814.98,919.67 L816.4,920.7 L817.81,921.74 L819.23,922.77 L820.64,923.82 L822.05,924.86 L823.46,925.91 L824.86,926.96 L826.27,928.01 L827.67,929.07 L829.07,930.12 L830.47,931.17 L831.87,932.23 L833.27,933.28 L834.67,934.33 L836.06,935.38 L837.46,936.42 L838.85,937.46 L840.25,938.5 L841.64,939.52 L843.04,940.54 L844.44,941.55 L845.85,942.54 L847.25,943.53 L848.67,944.49 L850.09,945.44 L851.52,946.36 L852.96,947.27 L854.4,948.15 L855.86,949.01 L857.33,949.84 L858.8,950.64 L860.29,951.41 L861.8,952.15 L863.32,952.86 L864.85,953.53 L866.4,954.16 L867.97,954.76 L869.55,955.31 L871.15,955.82 L872.76,956.28 L874.38,956.69 L876.01,957.04 L877.64,957.34 L879.27,957.57 L880.9,957.74 L882.52,957.84 L884.14,957.86 L885.74,957.82 L887.34,957.7 L888.93,957.52 L890.51,957.26 L892.07,956.94 L893.62,956.56 L895.16,956.12 L896.69,955.61 L898.2,955.05 L899.7,954.44 L901.18,953.77 L902.65,953.04 L904.1,952.27 L905.53,951.45 L906.95,950.59 L908.35,949.68 L909.73,948.73 L911.09,947.74 L912.42,946.71 L913.74,945.65 L915.04,944.55 L916.31,943.42 L917.57,942.27 L918.8,941.08 L920,939.87 L921.18,938.63 L922.34,937.37 L923.47,936.09 L924.57,934.8 L925.65,933.49 L926.7,932.16 L927.73,930.81 L928.73,929.45 L929.71,928.08 L930.66,926.69 L931.59,925.28 L932.5,923.87 L933.39,922.43 L934.25,920.99 L935.09,919.53 L935.92,918.06 L936.72,916.58 L937.5,915.08 L938.27,913.58 L939.02,912.06 L939.75,910.54 L940.46,909 L941.15,907.45 L941.83,905.89 L942.5,904.33 L943.15,902.76 L943.78,901.17 L944.4,899.58 L945.01,897.98 L945.6,896.38 L946.19,894.77 L946.76,893.15 L947.32,891.52 L947.86,889.89 L948.4,888.26 L948.93,886.62 L949.45,884.97 L949.96,883.32 L950.47,881.67 L950.96,880.01 L951.45,878.35 L951.94,876.69 L952.42,875.03 L952.89,873.36 L953.36,871.69 L953.82,870.02 L954.28,868.35 L954.74,866.68 L955.19,865.01 L955.65,863.34 L956.1,861.67 L956.55,860 L957,858.33 L957.45,856.67 L957.9,855 L958.35,853.34 L958.81,851.69 L959.27,850.03 L959.72,848.38 L960.18,846.73 L960.64,845.08 L961.11,843.44 L961.57,841.79 L962.04,840.16 L962.5,838.52 L962.97,836.88 L963.44,835.25 L963.91,833.62 L964.38,831.99 L964.85,830.36 L965.32,828.74 L965.79,827.12 L966.27,825.49 L966.74,823.87 L967.21,822.26 L967.69,820.64 L968.16,819.02 L968.64,817.41 L969.11,815.8 L969.58,814.19 L970.06,812.58 L970.53,810.97 L971,809.36 L971.48,807.75 L971.95,806.15 L972.42,804.54 L972.89,802.94 L973.36,801.33 L973.83,799.73 L974.29,798.13 L974.76,796.52 L975.23,794.92 L975.69,793.32 L976.15,791.72 L976.61,790.12 L977.07,788.51 L977.53,786.91 L977.99,785.31 L978.44,783.71 L978.9,782.11 L979.35,780.51 L979.79,778.9 L980.24,777.3 L980.69,775.7 L981.13,774.09 L981.57,772.49 L982,770.88 L982.44,769.27 L982.87,767.67 L983.3,766.06 L983.73,764.45 L984.15,762.84 L984.57,761.23 L984.99,759.61 L985.4,758 L985.81,756.39 L986.22,754.77 L986.62,753.15 L987.02,751.53 L987.42,749.91 L987.81,748.28 L988.2,746.66 L988.59,745.03 L988.97,743.4 L989.34,741.77 L989.72,740.14 L990.09,738.5 L990.45,736.86 L990.81,735.22 L991.17,733.58 L991.52,731.93 L991.86,730.29 L992.2,728.64 L992.54,726.98 L992.87,725.33 L993.2,723.67 L993.52,722.01 L993.84,720.34 L994.15,718.67 L994.45,717 L994.75,715.33 L995.05,713.65 L995.34,711.97 L995.62,710.29 L995.9,708.6 L996.17,706.91 L996.43,705.21 L996.69,703.51 L996.95,701.81 L997.19,700.1 L997.43,698.39 L997.67,696.68 L997.9,694.96 L998.12,693.24 L998.33,691.51 L998.54,689.78 L998.74,688.04 L998.93,686.3 L999.12,684.56 L999.3,682.81 L999.47,681.05 L999.64,679.3 L999.79,677.53 L999.94,675.76" fill="none" stroke="#9467bd" stroke-width="3.1" stroke-linejoin="round" />
<path d="M564.14,958.58 L565.86,958.67 L567.57,958.73 L569.28,958.77 L570.97,958.77 L572.66,958.76 L574.34,958.71 L576.01,958.64 L577.68,958.55 L579.33,958.43 L580.98,958.28 L582.62,958.11 L584.25,957.92 L585.88,957.71 L587.5,957.47 L589.11,957.21 L590.71,956.93 L592.31,956.63 L593.9,956.31 L595.49,955.97 L597.07,955.61 L598.64,955.23 L600.21,954.83 L601.77,954.41 L603.33,953.97 L604.88,953.52 L606.42,953.05 L607.96,952.57 L609.5,952.06 L611.03,951.55 L612.55,951.01 L614.08,950.47 L615.59,949.91 L617.11,949.33 L618.61,948.74 L620.12,948.14 L621.62,947.53 L623.12,946.91 L624.61,946.27 L626.11,945.62 L627.59,944.97 L629.08,944.3 L630.56,943.62 L632.04,942.94 L633.52,942.25 L634.99,941.54 L636.47,940.83 L637.94,940.12 L639.41,939.4 L640.88,938.67 L642.34,937.93 L643.81,937.19 L645.27,936.45 L646.73,935.7 L648.19,934.94 L649.65,934.19 L651.11,933.43 L652.57,932.67 L654.03,931.9 L655.49,931.14 L656.95,930.37 L658.41,929.6 L659.87,928.84 L661.33,928.07 L662.79,927.3 L664.25,926.54 L665.72,925.78 L667.18,925.02 L668.65,924.26 L670.11,923.5 L671.58,922.75 L673.05,922.01 L674.52,921.26 L675.99,920.52 L677.47,919.79 L678.95,919.07 L680.43,918.35 L681.91,917.63 L683.4,916.93 L684.89,916.23 L686.38,915.54 L687.88,914.86 L689.37,914.19 L690.88,913.52 L692.38,912.87 L693.89,912.23 L695.41,911.6 L696.92,910.98 L698.45,910.37 L699.97,909.78 L701.51,909.19 L703.04,908.63 L704.58,908.07 L706.13,907.53 L707.68,907 L709.24,906.49 L710.8,906 L712.37,905.52 L713.95,905.06 L715.53,904.61 L717.11,904.18 L718.71,903.77 L720.31,903.38 L721.91,903.01 L723.53,902.66 L725.15,902.32 L726.77,902.01 L728.4,901.72 L730.03,901.45 L731.66,901.2 L733.3,900.97 L734.94,900.77 L736.58,900.59 L738.22,900.43 L739.87,900.3 L741.51,900.19 L743.15,900.1 L744.79,900.05 L746.43,900.01 L748.06,900.01 L749.7,900.03 L751.33,900.08 L752.95,900.15 L754.57,900.26 L756.18,900.39 L757.79,900.55 L759.39,900.74 L760.99,900.96 L762.57,901.22 L764.15,901.5 L765.72,901.81 L767.28,902.16 L768.83,902.54 L770.36,902.95 L771.89,903.4 L773.41,903.88 L774.91,904.39 L776.4,904.93 L777.88,905.51 L779.36,906.11 L780.82,906.74 L782.27,907.4 L783.72,908.09 L785.15,908.8 L786.58,909.53 L788,910.29 L789.42,911.07 L790.83,911.87 L792.23,912.69 L793.63,913.53 L795.02,914.39 L796.41,915.26 L797.79,916.15 L799.18,917.05 L800.56,917.97 L801.93,918.9 L803.31,919.84 L804.68,920.79 L806.05,921.75 L807.43,922.71 L808.8,923.69 L810.17,924.67 L811.55,925.65 L812.92,926.64 L814.3,927.62 L815.68,928.61 L817.06,929.6 L818.45,930.59 L819.84,931.58 L821.24,932.57 L822.64,933.55 L824.04,934.52 L825.45,935.49 L826.87,936.45 L828.3,937.41 L829.73,938.35 L831.17,939.28 L832.62,940.2 L834.07,941.11 L835.53,941.99 L836.99,942.87 L838.47,943.72 L839.94,944.55 L841.42,945.35 L842.91,946.13 L844.4,946.89 L845.89,947.61 L847.39,948.31 L848.89,948.97 L850.39,949.6 L851.9,950.2 L853.41,950.76 L854.91,951.27 L856.42,951.75 L857.94,952.19 L859.45,952.58 L860.96,952.93 L862.47,953.22 L863.98,953.47 L865.5,953.67 L867.01,953.82 L868.51,953.91 L870.02,953.94 L871.52,953.92 L873.03,953.84 L874.52,953.7 L876.02,953.5 L877.51,953.25 L878.99,952.95 L880.47,952.6 L881.94,952.2 L883.41,951.74 L884.86,951.24 L886.31,950.7 L887.75,950.11 L889.17,949.47 L890.59,948.79 L891.99,948.07 L893.39,947.32 L894.76,946.52 L896.13,945.69 L897.48,944.82 L898.82,943.91 L900.14,942.98 L901.44,942.01 L902.73,941.01 L904,939.98 L905.25,938.92 L906.49,937.84 L907.7,936.74 L908.89,935.6 L910.06,934.45 L911.21,933.28 L912.34,932.08 L913.44,930.87 L914.53,929.64 L915.59,928.39 L916.62,927.12 L917.64,925.84 L918.63,924.54 L919.61,923.23 L920.56,921.9 L921.5,920.55 L922.42,919.19 L923.31,917.82 L924.19,916.43 L925.05,915.03 L925.9,913.62 L926.72,912.19 L927.54,910.75 L928.33,909.3 L929.11,907.84 L929.87,906.36 L930.62,904.88 L931.36,903.39 L932.08,901.89 L932.79,900.37 L933.48,898.85 L934.17,897.32 L934.84,895.79 L935.5,894.24 L936.14,892.69 L936.78,891.13 L937.41,889.57 L938.03,888 L938.64,886.42 L939.24,884.84 L939.83,883.25 L940.41,881.66 L940.99,880.07 L941.55,878.47 L942.12,876.87 L942.67,875.27 L943.22,873.67 L943.77,872.06 L944.31,870.46 L944.84,868.85 L945.37,867.24 L945.9,865.63 L946.43,864.03 L946.95,862.42 L947.47,860.81 L947.99,859.21 L948.51,857.61 L949.02,856.01 L949.54,854.41 L950.05,852.82 L950.57,851.23 L951.09,849.65 L951.61,848.07 L952.12,846.49 L952.64,844.91 L953.16,843.34 L953.68,841.77 L954.19,840.21 L954.71,838.64 L955.23,837.09 L955.75,835.53 L956.27,833.97 L956.78,832.42 L957.3,830.87 L957.82,829.33 L958.34,827.78 L958.85,826.24 L959.37,824.7 L959.89,823.17 L960.4,821.63 L960.92,820.1 L961.43,818.57 L961.94,817.04 L962.46,815.51 L962.97,813.98 L963.48,812.46 L963.99,810.93 L964.5,809.41 L965.01,807.89 L965.52,806.37 L966.02,804.85 L966.53,803.34 L967.04,801.82 L967.54,800.3 L968.04,798.79 L968.54,797.27 L969.04,795.76 L969.54,794.25 L970.04,792.73 L970.54,791.22 L971.03,789.71 L971.52,788.2 L972.02,786.68 L972.51,785.17 L972.99,783.66 L973.48,782.15 L973.97,780.63 L974.45,779.12 L974.93,777.61 L975.41,776.09 L975.89,774.58 L976.37,773.06 L976.84,771.54 L977.31,770.03 L977.78,768.51 L978.25,766.99 L978.71,765.47 L979.18,763.95 L979.64,762.42 L980.1,760.9 L980.55,759.37 L981.01,757.84 L981.46,756.31 L981.91,754.78 L982.36,753.25 L982.8,751.71 L983.24,750.18 L983.68,748.64 L984.12,747.1 L984.55,745.55 L984.98,744 L985.41,742.46 L985.83,740.9 L986.26,739.35 L986.68,737.79 L987.09,736.23 L987.5,734.67 L987.91,733.11 L988.32,731.54 L988.72,729.97 L989.12,728.39 L989.52,726.81 L989.91,725.23 L990.3,723.64 L990.69,722.06 L991.07,720.46 L991.45,718.87 L991.83,717.27 L992.2,715.66 L992.57,714.05 L992.94,712.44 L993.3,710.82 L993.66,709.2 L994.01,707.58 L994.36,705.95 L994.71,704.31 L995.05,702.68 L995.39,701.03 L995.72,699.38 L996.05,697.73 L996.37,696.07 L996.7,694.41 L997.01,692.74 L997.33,691.06 L997.63,689.39 L997.94,687.7 L998.24,686.01 L998.53,684.31 L998.82,682.61 L999.11,680.91 L999.39,679.19 L999.67,677.47 L999.94,675.75" fill="none" stroke="#2ca02c" stroke-width="3.7" stroke-linejoin="round" />
<line x1="564.3" y1="973.2" x2="564.3" y2="977.4" stroke="#000" stroke-width="1.6" />
<line x1="649.7" y1="973.2" x2="649.7" y2="977.4" stroke="#000" stroke-width="1.6" />
<line x1="735.1" y1="973.2" x2="735.1" y2="977.4" stroke="#000" stroke-width="1.6" />
<line x1="820.5" y1="973.2" x2="820.5" y2="977.4" stroke="#000" stroke-width="1.6" />
<line x1="905.9" y1="973.2" x2="905.9" y2="977.4" stroke="#000" stroke-width="1.6" />
<line x1="991.3" y1="973.2" x2="991.3" y2="977.4" stroke="#000" stroke-width="1.6" />
<line x1="539.4" y1="958.2" x2="543.6" y2="958.2" stroke="#000" stroke-width="1.6" />
<line x1="539.4" y1="901.82" x2="543.6" y2="901.82" stroke="#000" stroke-width="1.6" />
<line x1="539.4" y1="845.44" x2="543.6" y2="845.44" stroke="#000" stroke-width="1.6" />
<line x1="539.4" y1="789.06" x2="543.6" y2="789.06" stroke="#000" stroke-width="1.6" />
<line x1="539.4" y1="732.68" x2="543.6" y2="732.68" stroke="#000" stroke-width="1.6" />
<line x1="539.4" y1="676.3" x2="543.6" y2="676.3" stroke="#000" stroke-width="1.6" />
<rect x="543.6" y="662" width="478" height="311.2" fill="none" stroke="#000" stroke-width="2.0"/>
<text transform="translate(564.3,1000.7) scale(1,1.0)" font-size="23" text-anchor="middle" >0</text>
<text transform="translate(993.3,1000.7) scale(1,1.0)" font-size="23" text-anchor="middle" >250</text>
<text transform="translate(32.3,686.2) scale(1,1.0)" font-size="23" text-anchor="end" >1</text>
<text transform="translate(32.5,967) scale(1,1.0)" font-size="23" text-anchor="end" >0</text>
<text transform="translate(275.9,652.9) scale(1,1.0)" font-size="33.8" text-anchor="middle" >First order</text>
<text transform="translate(788.1,652.9) scale(1,1.0)" font-size="33.8" text-anchor="middle" >Second order</text>
<text transform="translate(291.5,1011.2) scale(1,1.0)" font-size="30" text-anchor="middle" >Amplitude of grating</text>
<text transform="translate(790,1011.2) scale(1,1.0)" font-size="30" text-anchor="middle" >Amplitude of grating</text>
<text transform="translate(33.6,807.4) rotate(-90)" font-size="29.9" text-anchor="middle">Intensity</text>
<text transform="translate(34.2,32.2) scale(1,1.0)" font-size="35.5" text-anchor="start" >a<tspan dx="1.6">)</tspan></text>
<text transform="translate(48,637.6) scale(1,1.0)" font-size="35.5" text-anchor="start" >b<tspan dx="1.2">)</tspan></text>
</svg></body></html>
